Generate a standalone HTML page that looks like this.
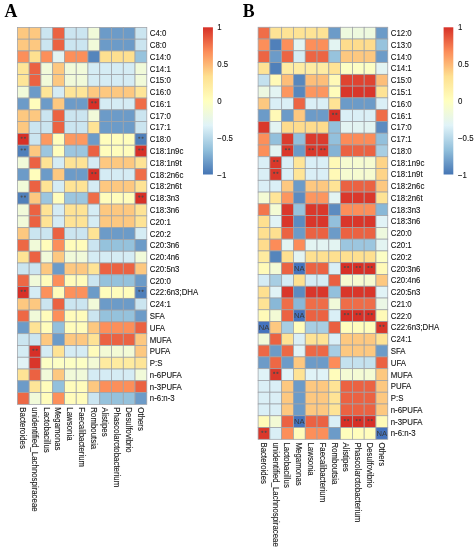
<!DOCTYPE html><html><head><meta charset="utf-8"><style>html,body{margin:0;padding:0;background:#fff;}body{width:476px;height:550px;overflow:hidden;}svg{display:block;}text{font-family:"Liberation Sans",sans-serif;}.lab{fill:#111;stroke:#111;stroke-width:0.1px;}svg{will-change:transform;}</style></head><body>
<svg width="476" height="550" viewBox="0 0 476 550">
<defs><linearGradient id="cb" x1="0" y1="1" x2="0" y2="0">
<stop offset="0.0000" stop-color="#4575B4"/>
<stop offset="0.1667" stop-color="#91BFDB"/>
<stop offset="0.3333" stop-color="#E0F3F8"/>
<stop offset="0.5000" stop-color="#FFFFBF"/>
<stop offset="0.6667" stop-color="#FEE090"/>
<stop offset="0.8333" stop-color="#FC8D59"/>
<stop offset="1.0000" stop-color="#D73027"/>
</linearGradient></defs>
<rect x="17.40" y="27.40" width="11.76" height="11.78" fill="#FDC880" stroke="#9ea2a8" stroke-width="0.75"/>
<rect x="29.16" y="27.40" width="11.76" height="11.78" fill="#FDC880" stroke="#9ea2a8" stroke-width="0.75"/>
<rect x="40.93" y="27.40" width="11.76" height="11.78" fill="#CBE5F0" stroke="#9ea2a8" stroke-width="0.75"/>
<rect x="52.69" y="27.40" width="11.76" height="11.78" fill="#EB6242" stroke="#9ea2a8" stroke-width="0.75"/>
<rect x="64.46" y="27.40" width="11.76" height="11.78" fill="#CBE5F0" stroke="#9ea2a8" stroke-width="0.75"/>
<rect x="76.22" y="27.40" width="11.76" height="11.78" fill="#CBE5F0" stroke="#9ea2a8" stroke-width="0.75"/>
<rect x="87.98" y="27.40" width="11.76" height="11.78" fill="#F1FAD9" stroke="#9ea2a8" stroke-width="0.75"/>
<rect x="99.75" y="27.40" width="11.76" height="11.78" fill="#6C9BC8" stroke="#9ea2a8" stroke-width="0.75"/>
<rect x="111.51" y="27.40" width="11.76" height="11.78" fill="#6C9BC8" stroke="#9ea2a8" stroke-width="0.75"/>
<rect x="123.28" y="27.40" width="11.76" height="11.78" fill="#6C9BC8" stroke="#9ea2a8" stroke-width="0.75"/>
<rect x="135.04" y="27.40" width="11.76" height="11.78" fill="#CBE5F0" stroke="#9ea2a8" stroke-width="0.75"/>
<rect x="17.40" y="39.18" width="11.76" height="11.78" fill="#FDC880" stroke="#9ea2a8" stroke-width="0.75"/>
<rect x="29.16" y="39.18" width="11.76" height="11.78" fill="#FDC880" stroke="#9ea2a8" stroke-width="0.75"/>
<rect x="40.93" y="39.18" width="11.76" height="11.78" fill="#CBE5F0" stroke="#9ea2a8" stroke-width="0.75"/>
<rect x="52.69" y="39.18" width="11.76" height="11.78" fill="#EB6242" stroke="#9ea2a8" stroke-width="0.75"/>
<rect x="64.46" y="39.18" width="11.76" height="11.78" fill="#CBE5F0" stroke="#9ea2a8" stroke-width="0.75"/>
<rect x="76.22" y="39.18" width="11.76" height="11.78" fill="#CBE5F0" stroke="#9ea2a8" stroke-width="0.75"/>
<rect x="87.98" y="39.18" width="11.76" height="11.78" fill="#F1FAD9" stroke="#9ea2a8" stroke-width="0.75"/>
<rect x="99.75" y="39.18" width="11.76" height="11.78" fill="#6C9BC8" stroke="#9ea2a8" stroke-width="0.75"/>
<rect x="111.51" y="39.18" width="11.76" height="11.78" fill="#6C9BC8" stroke="#9ea2a8" stroke-width="0.75"/>
<rect x="123.28" y="39.18" width="11.76" height="11.78" fill="#6C9BC8" stroke="#9ea2a8" stroke-width="0.75"/>
<rect x="135.04" y="39.18" width="11.76" height="11.78" fill="#CBE5F0" stroke="#9ea2a8" stroke-width="0.75"/>
<rect x="17.40" y="50.96" width="11.76" height="11.78" fill="#FC8F5A" stroke="#9ea2a8" stroke-width="0.75"/>
<rect x="29.16" y="50.96" width="11.76" height="11.78" fill="#FEE090" stroke="#9ea2a8" stroke-width="0.75"/>
<rect x="40.93" y="50.96" width="11.76" height="11.78" fill="#FC8F5A" stroke="#9ea2a8" stroke-width="0.75"/>
<rect x="52.69" y="50.96" width="11.76" height="11.78" fill="#E3F4F2" stroke="#9ea2a8" stroke-width="0.75"/>
<rect x="64.46" y="50.96" width="11.76" height="11.78" fill="#FC8F5A" stroke="#9ea2a8" stroke-width="0.75"/>
<rect x="76.22" y="50.96" width="11.76" height="11.78" fill="#FC8F5A" stroke="#9ea2a8" stroke-width="0.75"/>
<rect x="87.98" y="50.96" width="11.76" height="11.78" fill="#5585BC" stroke="#9ea2a8" stroke-width="0.75"/>
<rect x="99.75" y="50.96" width="11.76" height="11.78" fill="#FEE090" stroke="#9ea2a8" stroke-width="0.75"/>
<rect x="111.51" y="50.96" width="11.76" height="11.78" fill="#FEE090" stroke="#9ea2a8" stroke-width="0.75"/>
<rect x="123.28" y="50.96" width="11.76" height="11.78" fill="#FEE090" stroke="#9ea2a8" stroke-width="0.75"/>
<rect x="135.04" y="50.96" width="11.76" height="11.78" fill="#97C3DD" stroke="#9ea2a8" stroke-width="0.75"/>
<rect x="17.40" y="62.74" width="11.76" height="11.78" fill="#FEE598" stroke="#9ea2a8" stroke-width="0.75"/>
<rect x="29.16" y="62.74" width="11.76" height="11.78" fill="#EB6242" stroke="#9ea2a8" stroke-width="0.75"/>
<rect x="40.93" y="62.74" width="11.76" height="11.78" fill="#F1FAD9" stroke="#9ea2a8" stroke-width="0.75"/>
<rect x="52.69" y="62.74" width="11.76" height="11.78" fill="#FDC880" stroke="#9ea2a8" stroke-width="0.75"/>
<rect x="64.46" y="62.74" width="11.76" height="11.78" fill="#F1FAD9" stroke="#9ea2a8" stroke-width="0.75"/>
<rect x="76.22" y="62.74" width="11.76" height="11.78" fill="#F1FAD9" stroke="#9ea2a8" stroke-width="0.75"/>
<rect x="87.98" y="62.74" width="11.76" height="11.78" fill="#D5ECF4" stroke="#9ea2a8" stroke-width="0.75"/>
<rect x="99.75" y="62.74" width="11.76" height="11.78" fill="#D5ECF4" stroke="#9ea2a8" stroke-width="0.75"/>
<rect x="111.51" y="62.74" width="11.76" height="11.78" fill="#D5ECF4" stroke="#9ea2a8" stroke-width="0.75"/>
<rect x="123.28" y="62.74" width="11.76" height="11.78" fill="#D5ECF4" stroke="#9ea2a8" stroke-width="0.75"/>
<rect x="135.04" y="62.74" width="11.76" height="11.78" fill="#F1FAD9" stroke="#9ea2a8" stroke-width="0.75"/>
<rect x="17.40" y="74.52" width="11.76" height="11.78" fill="#FEE598" stroke="#9ea2a8" stroke-width="0.75"/>
<rect x="29.16" y="74.52" width="11.76" height="11.78" fill="#EB6242" stroke="#9ea2a8" stroke-width="0.75"/>
<rect x="40.93" y="74.52" width="11.76" height="11.78" fill="#F1FAD9" stroke="#9ea2a8" stroke-width="0.75"/>
<rect x="52.69" y="74.52" width="11.76" height="11.78" fill="#FDC880" stroke="#9ea2a8" stroke-width="0.75"/>
<rect x="64.46" y="74.52" width="11.76" height="11.78" fill="#F1FAD9" stroke="#9ea2a8" stroke-width="0.75"/>
<rect x="76.22" y="74.52" width="11.76" height="11.78" fill="#F1FAD9" stroke="#9ea2a8" stroke-width="0.75"/>
<rect x="87.98" y="74.52" width="11.76" height="11.78" fill="#D5ECF4" stroke="#9ea2a8" stroke-width="0.75"/>
<rect x="99.75" y="74.52" width="11.76" height="11.78" fill="#D5ECF4" stroke="#9ea2a8" stroke-width="0.75"/>
<rect x="111.51" y="74.52" width="11.76" height="11.78" fill="#D5ECF4" stroke="#9ea2a8" stroke-width="0.75"/>
<rect x="123.28" y="74.52" width="11.76" height="11.78" fill="#D5ECF4" stroke="#9ea2a8" stroke-width="0.75"/>
<rect x="135.04" y="74.52" width="11.76" height="11.78" fill="#F1FAD9" stroke="#9ea2a8" stroke-width="0.75"/>
<rect x="17.40" y="86.30" width="11.76" height="11.78" fill="#F1FAD9" stroke="#9ea2a8" stroke-width="0.75"/>
<rect x="29.16" y="86.30" width="11.76" height="11.78" fill="#6C9BC8" stroke="#9ea2a8" stroke-width="0.75"/>
<rect x="40.93" y="86.30" width="11.76" height="11.78" fill="#FEE598" stroke="#9ea2a8" stroke-width="0.75"/>
<rect x="52.69" y="86.30" width="11.76" height="11.78" fill="#D5ECF4" stroke="#9ea2a8" stroke-width="0.75"/>
<rect x="64.46" y="86.30" width="11.76" height="11.78" fill="#FEE598" stroke="#9ea2a8" stroke-width="0.75"/>
<rect x="76.22" y="86.30" width="11.76" height="11.78" fill="#FEE598" stroke="#9ea2a8" stroke-width="0.75"/>
<rect x="87.98" y="86.30" width="11.76" height="11.78" fill="#FDC880" stroke="#9ea2a8" stroke-width="0.75"/>
<rect x="99.75" y="86.30" width="11.76" height="11.78" fill="#FDC880" stroke="#9ea2a8" stroke-width="0.75"/>
<rect x="111.51" y="86.30" width="11.76" height="11.78" fill="#FDC880" stroke="#9ea2a8" stroke-width="0.75"/>
<rect x="123.28" y="86.30" width="11.76" height="11.78" fill="#FDC880" stroke="#9ea2a8" stroke-width="0.75"/>
<rect x="135.04" y="86.30" width="11.76" height="11.78" fill="#FEE598" stroke="#9ea2a8" stroke-width="0.75"/>
<rect x="17.40" y="98.08" width="11.76" height="11.78" fill="#6C9BC8" stroke="#9ea2a8" stroke-width="0.75"/>
<rect x="29.16" y="98.08" width="11.76" height="11.78" fill="#FFFDBC" stroke="#9ea2a8" stroke-width="0.75"/>
<rect x="40.93" y="98.08" width="11.76" height="11.78" fill="#6C9BC8" stroke="#9ea2a8" stroke-width="0.75"/>
<rect x="52.69" y="98.08" width="11.76" height="11.78" fill="#FDC880" stroke="#9ea2a8" stroke-width="0.75"/>
<rect x="64.46" y="98.08" width="11.76" height="11.78" fill="#6C9BC8" stroke="#9ea2a8" stroke-width="0.75"/>
<rect x="76.22" y="98.08" width="11.76" height="11.78" fill="#6C9BC8" stroke="#9ea2a8" stroke-width="0.75"/>
<rect x="87.98" y="98.08" width="11.76" height="11.78" fill="#D73027" stroke="#9ea2a8" stroke-width="0.75"/>
<rect x="99.75" y="98.08" width="11.76" height="11.78" fill="#D5ECF4" stroke="#9ea2a8" stroke-width="0.75"/>
<rect x="111.51" y="98.08" width="11.76" height="11.78" fill="#D5ECF4" stroke="#9ea2a8" stroke-width="0.75"/>
<rect x="123.28" y="98.08" width="11.76" height="11.78" fill="#D5ECF4" stroke="#9ea2a8" stroke-width="0.75"/>
<rect x="135.04" y="98.08" width="11.76" height="11.78" fill="#EF6D48" stroke="#9ea2a8" stroke-width="0.75"/>
<rect x="17.40" y="109.86" width="11.76" height="11.78" fill="#FDC880" stroke="#9ea2a8" stroke-width="0.75"/>
<rect x="29.16" y="109.86" width="11.76" height="11.78" fill="#FDC880" stroke="#9ea2a8" stroke-width="0.75"/>
<rect x="40.93" y="109.86" width="11.76" height="11.78" fill="#CBE5F0" stroke="#9ea2a8" stroke-width="0.75"/>
<rect x="52.69" y="109.86" width="11.76" height="11.78" fill="#EB6242" stroke="#9ea2a8" stroke-width="0.75"/>
<rect x="64.46" y="109.86" width="11.76" height="11.78" fill="#CBE5F0" stroke="#9ea2a8" stroke-width="0.75"/>
<rect x="76.22" y="109.86" width="11.76" height="11.78" fill="#CBE5F0" stroke="#9ea2a8" stroke-width="0.75"/>
<rect x="87.98" y="109.86" width="11.76" height="11.78" fill="#F1FAD9" stroke="#9ea2a8" stroke-width="0.75"/>
<rect x="99.75" y="109.86" width="11.76" height="11.78" fill="#6C9BC8" stroke="#9ea2a8" stroke-width="0.75"/>
<rect x="111.51" y="109.86" width="11.76" height="11.78" fill="#6C9BC8" stroke="#9ea2a8" stroke-width="0.75"/>
<rect x="123.28" y="109.86" width="11.76" height="11.78" fill="#6C9BC8" stroke="#9ea2a8" stroke-width="0.75"/>
<rect x="135.04" y="109.86" width="11.76" height="11.78" fill="#CBE5F0" stroke="#9ea2a8" stroke-width="0.75"/>
<rect x="17.40" y="121.64" width="11.76" height="11.78" fill="#FDC880" stroke="#9ea2a8" stroke-width="0.75"/>
<rect x="29.16" y="121.64" width="11.76" height="11.78" fill="#CBE5F0" stroke="#9ea2a8" stroke-width="0.75"/>
<rect x="40.93" y="121.64" width="11.76" height="11.78" fill="#CBE5F0" stroke="#9ea2a8" stroke-width="0.75"/>
<rect x="52.69" y="121.64" width="11.76" height="11.78" fill="#EB6242" stroke="#9ea2a8" stroke-width="0.75"/>
<rect x="64.46" y="121.64" width="11.76" height="11.78" fill="#CBE5F0" stroke="#9ea2a8" stroke-width="0.75"/>
<rect x="76.22" y="121.64" width="11.76" height="11.78" fill="#CBE5F0" stroke="#9ea2a8" stroke-width="0.75"/>
<rect x="87.98" y="121.64" width="11.76" height="11.78" fill="#FEE395" stroke="#9ea2a8" stroke-width="0.75"/>
<rect x="99.75" y="121.64" width="11.76" height="11.78" fill="#6C9BC8" stroke="#9ea2a8" stroke-width="0.75"/>
<rect x="111.51" y="121.64" width="11.76" height="11.78" fill="#6C9BC8" stroke="#9ea2a8" stroke-width="0.75"/>
<rect x="123.28" y="121.64" width="11.76" height="11.78" fill="#6C9BC8" stroke="#9ea2a8" stroke-width="0.75"/>
<rect x="135.04" y="121.64" width="11.76" height="11.78" fill="#CBE5F0" stroke="#9ea2a8" stroke-width="0.75"/>
<rect x="17.40" y="133.42" width="11.76" height="11.78" fill="#D73027" stroke="#9ea2a8" stroke-width="0.75"/>
<rect x="29.16" y="133.42" width="11.76" height="11.78" fill="#CBE5F0" stroke="#9ea2a8" stroke-width="0.75"/>
<rect x="40.93" y="133.42" width="11.76" height="11.78" fill="#FC9961" stroke="#9ea2a8" stroke-width="0.75"/>
<rect x="52.69" y="133.42" width="11.76" height="11.78" fill="#FFFDBC" stroke="#9ea2a8" stroke-width="0.75"/>
<rect x="64.46" y="133.42" width="11.76" height="11.78" fill="#FC9961" stroke="#9ea2a8" stroke-width="0.75"/>
<rect x="76.22" y="133.42" width="11.76" height="11.78" fill="#FC9961" stroke="#9ea2a8" stroke-width="0.75"/>
<rect x="87.98" y="133.42" width="11.76" height="11.78" fill="#6C9BC8" stroke="#9ea2a8" stroke-width="0.75"/>
<rect x="99.75" y="133.42" width="11.76" height="11.78" fill="#FFFDBC" stroke="#9ea2a8" stroke-width="0.75"/>
<rect x="111.51" y="133.42" width="11.76" height="11.78" fill="#FFFDBC" stroke="#9ea2a8" stroke-width="0.75"/>
<rect x="123.28" y="133.42" width="11.76" height="11.78" fill="#FFFDBC" stroke="#9ea2a8" stroke-width="0.75"/>
<rect x="135.04" y="133.42" width="11.76" height="11.78" fill="#5080BA" stroke="#9ea2a8" stroke-width="0.75"/>
<rect x="17.40" y="145.20" width="11.76" height="11.78" fill="#5080BA" stroke="#9ea2a8" stroke-width="0.75"/>
<rect x="29.16" y="145.20" width="11.76" height="11.78" fill="#FDC880" stroke="#9ea2a8" stroke-width="0.75"/>
<rect x="40.93" y="145.20" width="11.76" height="11.78" fill="#9CC6DF" stroke="#9ea2a8" stroke-width="0.75"/>
<rect x="52.69" y="145.20" width="11.76" height="11.78" fill="#FFFDBC" stroke="#9ea2a8" stroke-width="0.75"/>
<rect x="64.46" y="145.20" width="11.76" height="11.78" fill="#9CC6DF" stroke="#9ea2a8" stroke-width="0.75"/>
<rect x="76.22" y="145.20" width="11.76" height="11.78" fill="#9CC6DF" stroke="#9ea2a8" stroke-width="0.75"/>
<rect x="87.98" y="145.20" width="11.76" height="11.78" fill="#EB6242" stroke="#9ea2a8" stroke-width="0.75"/>
<rect x="99.75" y="145.20" width="11.76" height="11.78" fill="#FFFDBC" stroke="#9ea2a8" stroke-width="0.75"/>
<rect x="111.51" y="145.20" width="11.76" height="11.78" fill="#FFFDBC" stroke="#9ea2a8" stroke-width="0.75"/>
<rect x="123.28" y="145.20" width="11.76" height="11.78" fill="#FFFDBC" stroke="#9ea2a8" stroke-width="0.75"/>
<rect x="135.04" y="145.20" width="11.76" height="11.78" fill="#D73027" stroke="#9ea2a8" stroke-width="0.75"/>
<rect x="17.40" y="156.98" width="11.76" height="11.78" fill="#F1FAD9" stroke="#9ea2a8" stroke-width="0.75"/>
<rect x="29.16" y="156.98" width="11.76" height="11.78" fill="#EB6242" stroke="#9ea2a8" stroke-width="0.75"/>
<rect x="40.93" y="156.98" width="11.76" height="11.78" fill="#FEE395" stroke="#9ea2a8" stroke-width="0.75"/>
<rect x="52.69" y="156.98" width="11.76" height="11.78" fill="#D5ECF4" stroke="#9ea2a8" stroke-width="0.75"/>
<rect x="64.46" y="156.98" width="11.76" height="11.78" fill="#FEE395" stroke="#9ea2a8" stroke-width="0.75"/>
<rect x="76.22" y="156.98" width="11.76" height="11.78" fill="#FEE395" stroke="#9ea2a8" stroke-width="0.75"/>
<rect x="87.98" y="156.98" width="11.76" height="11.78" fill="#D5ECF4" stroke="#9ea2a8" stroke-width="0.75"/>
<rect x="99.75" y="156.98" width="11.76" height="11.78" fill="#FDC880" stroke="#9ea2a8" stroke-width="0.75"/>
<rect x="111.51" y="156.98" width="11.76" height="11.78" fill="#FDC880" stroke="#9ea2a8" stroke-width="0.75"/>
<rect x="123.28" y="156.98" width="11.76" height="11.78" fill="#FDC880" stroke="#9ea2a8" stroke-width="0.75"/>
<rect x="135.04" y="156.98" width="11.76" height="11.78" fill="#FEE395" stroke="#9ea2a8" stroke-width="0.75"/>
<rect x="17.40" y="168.76" width="11.76" height="11.78" fill="#6C9BC8" stroke="#9ea2a8" stroke-width="0.75"/>
<rect x="29.16" y="168.76" width="11.76" height="11.78" fill="#FFFDBC" stroke="#9ea2a8" stroke-width="0.75"/>
<rect x="40.93" y="168.76" width="11.76" height="11.78" fill="#6C9BC8" stroke="#9ea2a8" stroke-width="0.75"/>
<rect x="52.69" y="168.76" width="11.76" height="11.78" fill="#FDC880" stroke="#9ea2a8" stroke-width="0.75"/>
<rect x="64.46" y="168.76" width="11.76" height="11.78" fill="#6C9BC8" stroke="#9ea2a8" stroke-width="0.75"/>
<rect x="76.22" y="168.76" width="11.76" height="11.78" fill="#6C9BC8" stroke="#9ea2a8" stroke-width="0.75"/>
<rect x="87.98" y="168.76" width="11.76" height="11.78" fill="#D73027" stroke="#9ea2a8" stroke-width="0.75"/>
<rect x="99.75" y="168.76" width="11.76" height="11.78" fill="#D5ECF4" stroke="#9ea2a8" stroke-width="0.75"/>
<rect x="111.51" y="168.76" width="11.76" height="11.78" fill="#D5ECF4" stroke="#9ea2a8" stroke-width="0.75"/>
<rect x="123.28" y="168.76" width="11.76" height="11.78" fill="#D5ECF4" stroke="#9ea2a8" stroke-width="0.75"/>
<rect x="135.04" y="168.76" width="11.76" height="11.78" fill="#EF6D48" stroke="#9ea2a8" stroke-width="0.75"/>
<rect x="17.40" y="180.54" width="11.76" height="11.78" fill="#F1FAD9" stroke="#9ea2a8" stroke-width="0.75"/>
<rect x="29.16" y="180.54" width="11.76" height="11.78" fill="#EB6242" stroke="#9ea2a8" stroke-width="0.75"/>
<rect x="40.93" y="180.54" width="11.76" height="11.78" fill="#FEE395" stroke="#9ea2a8" stroke-width="0.75"/>
<rect x="52.69" y="180.54" width="11.76" height="11.78" fill="#D5ECF4" stroke="#9ea2a8" stroke-width="0.75"/>
<rect x="64.46" y="180.54" width="11.76" height="11.78" fill="#FEE395" stroke="#9ea2a8" stroke-width="0.75"/>
<rect x="76.22" y="180.54" width="11.76" height="11.78" fill="#FEE395" stroke="#9ea2a8" stroke-width="0.75"/>
<rect x="87.98" y="180.54" width="11.76" height="11.78" fill="#D5ECF4" stroke="#9ea2a8" stroke-width="0.75"/>
<rect x="99.75" y="180.54" width="11.76" height="11.78" fill="#FDC880" stroke="#9ea2a8" stroke-width="0.75"/>
<rect x="111.51" y="180.54" width="11.76" height="11.78" fill="#FDC880" stroke="#9ea2a8" stroke-width="0.75"/>
<rect x="123.28" y="180.54" width="11.76" height="11.78" fill="#FDC880" stroke="#9ea2a8" stroke-width="0.75"/>
<rect x="135.04" y="180.54" width="11.76" height="11.78" fill="#FEE395" stroke="#9ea2a8" stroke-width="0.75"/>
<rect x="17.40" y="192.32" width="11.76" height="11.78" fill="#5080BA" stroke="#9ea2a8" stroke-width="0.75"/>
<rect x="29.16" y="192.32" width="11.76" height="11.78" fill="#FDC880" stroke="#9ea2a8" stroke-width="0.75"/>
<rect x="40.93" y="192.32" width="11.76" height="11.78" fill="#9CC6DF" stroke="#9ea2a8" stroke-width="0.75"/>
<rect x="52.69" y="192.32" width="11.76" height="11.78" fill="#FFFDBC" stroke="#9ea2a8" stroke-width="0.75"/>
<rect x="64.46" y="192.32" width="11.76" height="11.78" fill="#9CC6DF" stroke="#9ea2a8" stroke-width="0.75"/>
<rect x="76.22" y="192.32" width="11.76" height="11.78" fill="#9CC6DF" stroke="#9ea2a8" stroke-width="0.75"/>
<rect x="87.98" y="192.32" width="11.76" height="11.78" fill="#EF6D48" stroke="#9ea2a8" stroke-width="0.75"/>
<rect x="99.75" y="192.32" width="11.76" height="11.78" fill="#FFFDBC" stroke="#9ea2a8" stroke-width="0.75"/>
<rect x="111.51" y="192.32" width="11.76" height="11.78" fill="#FFFDBC" stroke="#9ea2a8" stroke-width="0.75"/>
<rect x="123.28" y="192.32" width="11.76" height="11.78" fill="#FFFDBC" stroke="#9ea2a8" stroke-width="0.75"/>
<rect x="135.04" y="192.32" width="11.76" height="11.78" fill="#D73027" stroke="#9ea2a8" stroke-width="0.75"/>
<rect x="17.40" y="204.10" width="11.76" height="11.78" fill="#F1FAD9" stroke="#9ea2a8" stroke-width="0.75"/>
<rect x="29.16" y="204.10" width="11.76" height="11.78" fill="#EB6242" stroke="#9ea2a8" stroke-width="0.75"/>
<rect x="40.93" y="204.10" width="11.76" height="11.78" fill="#FEE395" stroke="#9ea2a8" stroke-width="0.75"/>
<rect x="52.69" y="204.10" width="11.76" height="11.78" fill="#D5ECF4" stroke="#9ea2a8" stroke-width="0.75"/>
<rect x="64.46" y="204.10" width="11.76" height="11.78" fill="#FEE395" stroke="#9ea2a8" stroke-width="0.75"/>
<rect x="76.22" y="204.10" width="11.76" height="11.78" fill="#FEE395" stroke="#9ea2a8" stroke-width="0.75"/>
<rect x="87.98" y="204.10" width="11.76" height="11.78" fill="#D5ECF4" stroke="#9ea2a8" stroke-width="0.75"/>
<rect x="99.75" y="204.10" width="11.76" height="11.78" fill="#FDC880" stroke="#9ea2a8" stroke-width="0.75"/>
<rect x="111.51" y="204.10" width="11.76" height="11.78" fill="#FDC880" stroke="#9ea2a8" stroke-width="0.75"/>
<rect x="123.28" y="204.10" width="11.76" height="11.78" fill="#FDC880" stroke="#9ea2a8" stroke-width="0.75"/>
<rect x="135.04" y="204.10" width="11.76" height="11.78" fill="#FEE395" stroke="#9ea2a8" stroke-width="0.75"/>
<rect x="17.40" y="215.88" width="11.76" height="11.78" fill="#F1FAD9" stroke="#9ea2a8" stroke-width="0.75"/>
<rect x="29.16" y="215.88" width="11.76" height="11.78" fill="#EB6242" stroke="#9ea2a8" stroke-width="0.75"/>
<rect x="40.93" y="215.88" width="11.76" height="11.78" fill="#FEE395" stroke="#9ea2a8" stroke-width="0.75"/>
<rect x="52.69" y="215.88" width="11.76" height="11.78" fill="#D5ECF4" stroke="#9ea2a8" stroke-width="0.75"/>
<rect x="64.46" y="215.88" width="11.76" height="11.78" fill="#FEE395" stroke="#9ea2a8" stroke-width="0.75"/>
<rect x="76.22" y="215.88" width="11.76" height="11.78" fill="#FEE395" stroke="#9ea2a8" stroke-width="0.75"/>
<rect x="87.98" y="215.88" width="11.76" height="11.78" fill="#D5ECF4" stroke="#9ea2a8" stroke-width="0.75"/>
<rect x="99.75" y="215.88" width="11.76" height="11.78" fill="#FDC880" stroke="#9ea2a8" stroke-width="0.75"/>
<rect x="111.51" y="215.88" width="11.76" height="11.78" fill="#FDC880" stroke="#9ea2a8" stroke-width="0.75"/>
<rect x="123.28" y="215.88" width="11.76" height="11.78" fill="#FDC880" stroke="#9ea2a8" stroke-width="0.75"/>
<rect x="135.04" y="215.88" width="11.76" height="11.78" fill="#FEE395" stroke="#9ea2a8" stroke-width="0.75"/>
<rect x="17.40" y="227.66" width="11.76" height="11.78" fill="#FDC880" stroke="#9ea2a8" stroke-width="0.75"/>
<rect x="29.16" y="227.66" width="11.76" height="11.78" fill="#CBE5F0" stroke="#9ea2a8" stroke-width="0.75"/>
<rect x="40.93" y="227.66" width="11.76" height="11.78" fill="#CBE5F0" stroke="#9ea2a8" stroke-width="0.75"/>
<rect x="52.69" y="227.66" width="11.76" height="11.78" fill="#EB6242" stroke="#9ea2a8" stroke-width="0.75"/>
<rect x="64.46" y="227.66" width="11.76" height="11.78" fill="#CBE5F0" stroke="#9ea2a8" stroke-width="0.75"/>
<rect x="76.22" y="227.66" width="11.76" height="11.78" fill="#CBE5F0" stroke="#9ea2a8" stroke-width="0.75"/>
<rect x="87.98" y="227.66" width="11.76" height="11.78" fill="#FEE395" stroke="#9ea2a8" stroke-width="0.75"/>
<rect x="99.75" y="227.66" width="11.76" height="11.78" fill="#6C9BC8" stroke="#9ea2a8" stroke-width="0.75"/>
<rect x="111.51" y="227.66" width="11.76" height="11.78" fill="#6C9BC8" stroke="#9ea2a8" stroke-width="0.75"/>
<rect x="123.28" y="227.66" width="11.76" height="11.78" fill="#6C9BC8" stroke="#9ea2a8" stroke-width="0.75"/>
<rect x="135.04" y="227.66" width="11.76" height="11.78" fill="#D5ECF4" stroke="#9ea2a8" stroke-width="0.75"/>
<rect x="17.40" y="239.44" width="11.76" height="11.78" fill="#ED6845" stroke="#9ea2a8" stroke-width="0.75"/>
<rect x="29.16" y="239.44" width="11.76" height="11.78" fill="#F1FAD9" stroke="#9ea2a8" stroke-width="0.75"/>
<rect x="40.93" y="239.44" width="11.76" height="11.78" fill="#FFFCBB" stroke="#9ea2a8" stroke-width="0.75"/>
<rect x="52.69" y="239.44" width="11.76" height="11.78" fill="#FC8F5A" stroke="#9ea2a8" stroke-width="0.75"/>
<rect x="64.46" y="239.44" width="11.76" height="11.78" fill="#FFFCBB" stroke="#9ea2a8" stroke-width="0.75"/>
<rect x="76.22" y="239.44" width="11.76" height="11.78" fill="#FFFCBB" stroke="#9ea2a8" stroke-width="0.75"/>
<rect x="87.98" y="239.44" width="11.76" height="11.78" fill="#CBE5F0" stroke="#9ea2a8" stroke-width="0.75"/>
<rect x="99.75" y="239.44" width="11.76" height="11.78" fill="#95C2DC" stroke="#9ea2a8" stroke-width="0.75"/>
<rect x="111.51" y="239.44" width="11.76" height="11.78" fill="#95C2DC" stroke="#9ea2a8" stroke-width="0.75"/>
<rect x="123.28" y="239.44" width="11.76" height="11.78" fill="#95C2DC" stroke="#9ea2a8" stroke-width="0.75"/>
<rect x="135.04" y="239.44" width="11.76" height="11.78" fill="#6C9BC8" stroke="#9ea2a8" stroke-width="0.75"/>
<rect x="17.40" y="251.22" width="11.76" height="11.78" fill="#FEE395" stroke="#9ea2a8" stroke-width="0.75"/>
<rect x="29.16" y="251.22" width="11.76" height="11.78" fill="#EB6242" stroke="#9ea2a8" stroke-width="0.75"/>
<rect x="40.93" y="251.22" width="11.76" height="11.78" fill="#F1FAD9" stroke="#9ea2a8" stroke-width="0.75"/>
<rect x="52.69" y="251.22" width="11.76" height="11.78" fill="#FDC880" stroke="#9ea2a8" stroke-width="0.75"/>
<rect x="64.46" y="251.22" width="11.76" height="11.78" fill="#F1FAD9" stroke="#9ea2a8" stroke-width="0.75"/>
<rect x="76.22" y="251.22" width="11.76" height="11.78" fill="#F1FAD9" stroke="#9ea2a8" stroke-width="0.75"/>
<rect x="87.98" y="251.22" width="11.76" height="11.78" fill="#D5ECF4" stroke="#9ea2a8" stroke-width="0.75"/>
<rect x="99.75" y="251.22" width="11.76" height="11.78" fill="#D5ECF4" stroke="#9ea2a8" stroke-width="0.75"/>
<rect x="111.51" y="251.22" width="11.76" height="11.78" fill="#D5ECF4" stroke="#9ea2a8" stroke-width="0.75"/>
<rect x="123.28" y="251.22" width="11.76" height="11.78" fill="#D5ECF4" stroke="#9ea2a8" stroke-width="0.75"/>
<rect x="135.04" y="251.22" width="11.76" height="11.78" fill="#F1FAD9" stroke="#9ea2a8" stroke-width="0.75"/>
<rect x="17.40" y="263.00" width="11.76" height="11.78" fill="#CBE5F0" stroke="#9ea2a8" stroke-width="0.75"/>
<rect x="29.16" y="263.00" width="11.76" height="11.78" fill="#CBE5F0" stroke="#9ea2a8" stroke-width="0.75"/>
<rect x="40.93" y="263.00" width="11.76" height="11.78" fill="#FDC880" stroke="#9ea2a8" stroke-width="0.75"/>
<rect x="52.69" y="263.00" width="11.76" height="11.78" fill="#6C9BC8" stroke="#9ea2a8" stroke-width="0.75"/>
<rect x="64.46" y="263.00" width="11.76" height="11.78" fill="#FDC880" stroke="#9ea2a8" stroke-width="0.75"/>
<rect x="76.22" y="263.00" width="11.76" height="11.78" fill="#FDC880" stroke="#9ea2a8" stroke-width="0.75"/>
<rect x="87.98" y="263.00" width="11.76" height="11.78" fill="#FEE395" stroke="#9ea2a8" stroke-width="0.75"/>
<rect x="99.75" y="263.00" width="11.76" height="11.78" fill="#EB6242" stroke="#9ea2a8" stroke-width="0.75"/>
<rect x="111.51" y="263.00" width="11.76" height="11.78" fill="#EB6242" stroke="#9ea2a8" stroke-width="0.75"/>
<rect x="123.28" y="263.00" width="11.76" height="11.78" fill="#EB6242" stroke="#9ea2a8" stroke-width="0.75"/>
<rect x="135.04" y="263.00" width="11.76" height="11.78" fill="#FDC880" stroke="#9ea2a8" stroke-width="0.75"/>
<rect x="17.40" y="274.78" width="11.76" height="11.78" fill="#ED6845" stroke="#9ea2a8" stroke-width="0.75"/>
<rect x="29.16" y="274.78" width="11.76" height="11.78" fill="#F1FAD9" stroke="#9ea2a8" stroke-width="0.75"/>
<rect x="40.93" y="274.78" width="11.76" height="11.78" fill="#FFFCBB" stroke="#9ea2a8" stroke-width="0.75"/>
<rect x="52.69" y="274.78" width="11.76" height="11.78" fill="#FC8F5A" stroke="#9ea2a8" stroke-width="0.75"/>
<rect x="64.46" y="274.78" width="11.76" height="11.78" fill="#FFFCBB" stroke="#9ea2a8" stroke-width="0.75"/>
<rect x="76.22" y="274.78" width="11.76" height="11.78" fill="#FFFCBB" stroke="#9ea2a8" stroke-width="0.75"/>
<rect x="87.98" y="274.78" width="11.76" height="11.78" fill="#CBE5F0" stroke="#9ea2a8" stroke-width="0.75"/>
<rect x="99.75" y="274.78" width="11.76" height="11.78" fill="#95C2DC" stroke="#9ea2a8" stroke-width="0.75"/>
<rect x="111.51" y="274.78" width="11.76" height="11.78" fill="#95C2DC" stroke="#9ea2a8" stroke-width="0.75"/>
<rect x="123.28" y="274.78" width="11.76" height="11.78" fill="#95C2DC" stroke="#9ea2a8" stroke-width="0.75"/>
<rect x="135.04" y="274.78" width="11.76" height="11.78" fill="#6C9BC8" stroke="#9ea2a8" stroke-width="0.75"/>
<rect x="17.40" y="286.56" width="11.76" height="11.78" fill="#D73027" stroke="#9ea2a8" stroke-width="0.75"/>
<rect x="29.16" y="286.56" width="11.76" height="11.78" fill="#D5ECF4" stroke="#9ea2a8" stroke-width="0.75"/>
<rect x="40.93" y="286.56" width="11.76" height="11.78" fill="#FC915C" stroke="#9ea2a8" stroke-width="0.75"/>
<rect x="52.69" y="286.56" width="11.76" height="11.78" fill="#FFFDBC" stroke="#9ea2a8" stroke-width="0.75"/>
<rect x="64.46" y="286.56" width="11.76" height="11.78" fill="#FC915C" stroke="#9ea2a8" stroke-width="0.75"/>
<rect x="76.22" y="286.56" width="11.76" height="11.78" fill="#FC915C" stroke="#9ea2a8" stroke-width="0.75"/>
<rect x="87.98" y="286.56" width="11.76" height="11.78" fill="#6C9BC8" stroke="#9ea2a8" stroke-width="0.75"/>
<rect x="99.75" y="286.56" width="11.76" height="11.78" fill="#FFFDBC" stroke="#9ea2a8" stroke-width="0.75"/>
<rect x="111.51" y="286.56" width="11.76" height="11.78" fill="#FFFDBC" stroke="#9ea2a8" stroke-width="0.75"/>
<rect x="123.28" y="286.56" width="11.76" height="11.78" fill="#FFFDBC" stroke="#9ea2a8" stroke-width="0.75"/>
<rect x="135.04" y="286.56" width="11.76" height="11.78" fill="#5080BA" stroke="#9ea2a8" stroke-width="0.75"/>
<rect x="17.40" y="298.34" width="11.76" height="11.78" fill="#FDC880" stroke="#9ea2a8" stroke-width="0.75"/>
<rect x="29.16" y="298.34" width="11.76" height="11.78" fill="#FDC880" stroke="#9ea2a8" stroke-width="0.75"/>
<rect x="40.93" y="298.34" width="11.76" height="11.78" fill="#CBE5F0" stroke="#9ea2a8" stroke-width="0.75"/>
<rect x="52.69" y="298.34" width="11.76" height="11.78" fill="#EB6242" stroke="#9ea2a8" stroke-width="0.75"/>
<rect x="64.46" y="298.34" width="11.76" height="11.78" fill="#CBE5F0" stroke="#9ea2a8" stroke-width="0.75"/>
<rect x="76.22" y="298.34" width="11.76" height="11.78" fill="#CBE5F0" stroke="#9ea2a8" stroke-width="0.75"/>
<rect x="87.98" y="298.34" width="11.76" height="11.78" fill="#F1FAD9" stroke="#9ea2a8" stroke-width="0.75"/>
<rect x="99.75" y="298.34" width="11.76" height="11.78" fill="#6C9BC8" stroke="#9ea2a8" stroke-width="0.75"/>
<rect x="111.51" y="298.34" width="11.76" height="11.78" fill="#6C9BC8" stroke="#9ea2a8" stroke-width="0.75"/>
<rect x="123.28" y="298.34" width="11.76" height="11.78" fill="#6C9BC8" stroke="#9ea2a8" stroke-width="0.75"/>
<rect x="135.04" y="298.34" width="11.76" height="11.78" fill="#CBE5F0" stroke="#9ea2a8" stroke-width="0.75"/>
<rect x="17.40" y="310.12" width="11.76" height="11.78" fill="#ED6845" stroke="#9ea2a8" stroke-width="0.75"/>
<rect x="29.16" y="310.12" width="11.76" height="11.78" fill="#F1FAD9" stroke="#9ea2a8" stroke-width="0.75"/>
<rect x="40.93" y="310.12" width="11.76" height="11.78" fill="#FFFCBB" stroke="#9ea2a8" stroke-width="0.75"/>
<rect x="52.69" y="310.12" width="11.76" height="11.78" fill="#FC8F5A" stroke="#9ea2a8" stroke-width="0.75"/>
<rect x="64.46" y="310.12" width="11.76" height="11.78" fill="#FFFCBB" stroke="#9ea2a8" stroke-width="0.75"/>
<rect x="76.22" y="310.12" width="11.76" height="11.78" fill="#FFFCBB" stroke="#9ea2a8" stroke-width="0.75"/>
<rect x="87.98" y="310.12" width="11.76" height="11.78" fill="#CBE5F0" stroke="#9ea2a8" stroke-width="0.75"/>
<rect x="99.75" y="310.12" width="11.76" height="11.78" fill="#95C2DC" stroke="#9ea2a8" stroke-width="0.75"/>
<rect x="111.51" y="310.12" width="11.76" height="11.78" fill="#95C2DC" stroke="#9ea2a8" stroke-width="0.75"/>
<rect x="123.28" y="310.12" width="11.76" height="11.78" fill="#95C2DC" stroke="#9ea2a8" stroke-width="0.75"/>
<rect x="135.04" y="310.12" width="11.76" height="11.78" fill="#6C9BC8" stroke="#9ea2a8" stroke-width="0.75"/>
<rect x="17.40" y="321.90" width="11.76" height="11.78" fill="#6C9BC8" stroke="#9ea2a8" stroke-width="0.75"/>
<rect x="29.16" y="321.90" width="11.76" height="11.78" fill="#FEE395" stroke="#9ea2a8" stroke-width="0.75"/>
<rect x="40.93" y="321.90" width="11.76" height="11.78" fill="#FFFCBB" stroke="#9ea2a8" stroke-width="0.75"/>
<rect x="52.69" y="321.90" width="11.76" height="11.78" fill="#93C0DC" stroke="#9ea2a8" stroke-width="0.75"/>
<rect x="64.46" y="321.90" width="11.76" height="11.78" fill="#FFFCBB" stroke="#9ea2a8" stroke-width="0.75"/>
<rect x="76.22" y="321.90" width="11.76" height="11.78" fill="#FFFCBB" stroke="#9ea2a8" stroke-width="0.75"/>
<rect x="87.98" y="321.90" width="11.76" height="11.78" fill="#FDC880" stroke="#9ea2a8" stroke-width="0.75"/>
<rect x="99.75" y="321.90" width="11.76" height="11.78" fill="#FC8F5A" stroke="#9ea2a8" stroke-width="0.75"/>
<rect x="111.51" y="321.90" width="11.76" height="11.78" fill="#FC8F5A" stroke="#9ea2a8" stroke-width="0.75"/>
<rect x="123.28" y="321.90" width="11.76" height="11.78" fill="#FC8F5A" stroke="#9ea2a8" stroke-width="0.75"/>
<rect x="135.04" y="321.90" width="11.76" height="11.78" fill="#EB6242" stroke="#9ea2a8" stroke-width="0.75"/>
<rect x="17.40" y="333.68" width="11.76" height="11.78" fill="#CBE5F0" stroke="#9ea2a8" stroke-width="0.75"/>
<rect x="29.16" y="333.68" width="11.76" height="11.78" fill="#CBE5F0" stroke="#9ea2a8" stroke-width="0.75"/>
<rect x="40.93" y="333.68" width="11.76" height="11.78" fill="#FDC880" stroke="#9ea2a8" stroke-width="0.75"/>
<rect x="52.69" y="333.68" width="11.76" height="11.78" fill="#6C9BC8" stroke="#9ea2a8" stroke-width="0.75"/>
<rect x="64.46" y="333.68" width="11.76" height="11.78" fill="#FDC880" stroke="#9ea2a8" stroke-width="0.75"/>
<rect x="76.22" y="333.68" width="11.76" height="11.78" fill="#FDC880" stroke="#9ea2a8" stroke-width="0.75"/>
<rect x="87.98" y="333.68" width="11.76" height="11.78" fill="#FEE395" stroke="#9ea2a8" stroke-width="0.75"/>
<rect x="99.75" y="333.68" width="11.76" height="11.78" fill="#EB6242" stroke="#9ea2a8" stroke-width="0.75"/>
<rect x="111.51" y="333.68" width="11.76" height="11.78" fill="#EB6242" stroke="#9ea2a8" stroke-width="0.75"/>
<rect x="123.28" y="333.68" width="11.76" height="11.78" fill="#EB6242" stroke="#9ea2a8" stroke-width="0.75"/>
<rect x="135.04" y="333.68" width="11.76" height="11.78" fill="#FDC880" stroke="#9ea2a8" stroke-width="0.75"/>
<rect x="17.40" y="345.46" width="11.76" height="11.78" fill="#D5ECF4" stroke="#9ea2a8" stroke-width="0.75"/>
<rect x="29.16" y="345.46" width="11.76" height="11.78" fill="#D73027" stroke="#9ea2a8" stroke-width="0.75"/>
<rect x="40.93" y="345.46" width="11.76" height="11.78" fill="#D5ECF4" stroke="#9ea2a8" stroke-width="0.75"/>
<rect x="52.69" y="345.46" width="11.76" height="11.78" fill="#FEE395" stroke="#9ea2a8" stroke-width="0.75"/>
<rect x="64.46" y="345.46" width="11.76" height="11.78" fill="#D5ECF4" stroke="#9ea2a8" stroke-width="0.75"/>
<rect x="76.22" y="345.46" width="11.76" height="11.78" fill="#D5ECF4" stroke="#9ea2a8" stroke-width="0.75"/>
<rect x="87.98" y="345.46" width="11.76" height="11.78" fill="#FFFCBB" stroke="#9ea2a8" stroke-width="0.75"/>
<rect x="99.75" y="345.46" width="11.76" height="11.78" fill="#F3FAD5" stroke="#9ea2a8" stroke-width="0.75"/>
<rect x="111.51" y="345.46" width="11.76" height="11.78" fill="#F3FAD5" stroke="#9ea2a8" stroke-width="0.75"/>
<rect x="123.28" y="345.46" width="11.76" height="11.78" fill="#F3FAD5" stroke="#9ea2a8" stroke-width="0.75"/>
<rect x="135.04" y="345.46" width="11.76" height="11.78" fill="#FDC880" stroke="#9ea2a8" stroke-width="0.75"/>
<rect x="17.40" y="357.24" width="11.76" height="11.78" fill="#E1F3F6" stroke="#9ea2a8" stroke-width="0.75"/>
<rect x="29.16" y="357.24" width="11.76" height="11.78" fill="#D9362A" stroke="#9ea2a8" stroke-width="0.75"/>
<rect x="40.93" y="357.24" width="11.76" height="11.78" fill="#FCFEC4" stroke="#9ea2a8" stroke-width="0.75"/>
<rect x="52.69" y="357.24" width="11.76" height="11.78" fill="#FCFEC4" stroke="#9ea2a8" stroke-width="0.75"/>
<rect x="64.46" y="357.24" width="11.76" height="11.78" fill="#FCFEC4" stroke="#9ea2a8" stroke-width="0.75"/>
<rect x="76.22" y="357.24" width="11.76" height="11.78" fill="#FCFEC4" stroke="#9ea2a8" stroke-width="0.75"/>
<rect x="87.98" y="357.24" width="11.76" height="11.78" fill="#F3FAD5" stroke="#9ea2a8" stroke-width="0.75"/>
<rect x="99.75" y="357.24" width="11.76" height="11.78" fill="#FEEBA0" stroke="#9ea2a8" stroke-width="0.75"/>
<rect x="111.51" y="357.24" width="11.76" height="11.78" fill="#FEEBA0" stroke="#9ea2a8" stroke-width="0.75"/>
<rect x="123.28" y="357.24" width="11.76" height="11.78" fill="#FEEBA0" stroke="#9ea2a8" stroke-width="0.75"/>
<rect x="135.04" y="357.24" width="11.76" height="11.78" fill="#FEE598" stroke="#9ea2a8" stroke-width="0.75"/>
<rect x="17.40" y="369.02" width="11.76" height="11.78" fill="#FEE395" stroke="#9ea2a8" stroke-width="0.75"/>
<rect x="29.16" y="369.02" width="11.76" height="11.78" fill="#EB6242" stroke="#9ea2a8" stroke-width="0.75"/>
<rect x="40.93" y="369.02" width="11.76" height="11.78" fill="#F1FAD9" stroke="#9ea2a8" stroke-width="0.75"/>
<rect x="52.69" y="369.02" width="11.76" height="11.78" fill="#FDC880" stroke="#9ea2a8" stroke-width="0.75"/>
<rect x="64.46" y="369.02" width="11.76" height="11.78" fill="#F1FAD9" stroke="#9ea2a8" stroke-width="0.75"/>
<rect x="76.22" y="369.02" width="11.76" height="11.78" fill="#F1FAD9" stroke="#9ea2a8" stroke-width="0.75"/>
<rect x="87.98" y="369.02" width="11.76" height="11.78" fill="#D5ECF4" stroke="#9ea2a8" stroke-width="0.75"/>
<rect x="99.75" y="369.02" width="11.76" height="11.78" fill="#D5ECF4" stroke="#9ea2a8" stroke-width="0.75"/>
<rect x="111.51" y="369.02" width="11.76" height="11.78" fill="#D5ECF4" stroke="#9ea2a8" stroke-width="0.75"/>
<rect x="123.28" y="369.02" width="11.76" height="11.78" fill="#D5ECF4" stroke="#9ea2a8" stroke-width="0.75"/>
<rect x="135.04" y="369.02" width="11.76" height="11.78" fill="#F1FAD9" stroke="#9ea2a8" stroke-width="0.75"/>
<rect x="17.40" y="380.80" width="11.76" height="11.78" fill="#6C9BC8" stroke="#9ea2a8" stroke-width="0.75"/>
<rect x="29.16" y="380.80" width="11.76" height="11.78" fill="#FEE598" stroke="#9ea2a8" stroke-width="0.75"/>
<rect x="40.93" y="380.80" width="11.76" height="11.78" fill="#FFFCBB" stroke="#9ea2a8" stroke-width="0.75"/>
<rect x="52.69" y="380.80" width="11.76" height="11.78" fill="#93C0DC" stroke="#9ea2a8" stroke-width="0.75"/>
<rect x="64.46" y="380.80" width="11.76" height="11.78" fill="#FFFCBB" stroke="#9ea2a8" stroke-width="0.75"/>
<rect x="76.22" y="380.80" width="11.76" height="11.78" fill="#FFFCBB" stroke="#9ea2a8" stroke-width="0.75"/>
<rect x="87.98" y="380.80" width="11.76" height="11.78" fill="#FDC880" stroke="#9ea2a8" stroke-width="0.75"/>
<rect x="99.75" y="380.80" width="11.76" height="11.78" fill="#FC8F5A" stroke="#9ea2a8" stroke-width="0.75"/>
<rect x="111.51" y="380.80" width="11.76" height="11.78" fill="#FC8F5A" stroke="#9ea2a8" stroke-width="0.75"/>
<rect x="123.28" y="380.80" width="11.76" height="11.78" fill="#FC8F5A" stroke="#9ea2a8" stroke-width="0.75"/>
<rect x="135.04" y="380.80" width="11.76" height="11.78" fill="#EB6242" stroke="#9ea2a8" stroke-width="0.75"/>
<rect x="17.40" y="392.58" width="11.76" height="11.78" fill="#ED6845" stroke="#9ea2a8" stroke-width="0.75"/>
<rect x="29.16" y="392.58" width="11.76" height="11.78" fill="#F1FAD9" stroke="#9ea2a8" stroke-width="0.75"/>
<rect x="40.93" y="392.58" width="11.76" height="11.78" fill="#FFFCBB" stroke="#9ea2a8" stroke-width="0.75"/>
<rect x="52.69" y="392.58" width="11.76" height="11.78" fill="#FC8F5A" stroke="#9ea2a8" stroke-width="0.75"/>
<rect x="64.46" y="392.58" width="11.76" height="11.78" fill="#FFFCBB" stroke="#9ea2a8" stroke-width="0.75"/>
<rect x="76.22" y="392.58" width="11.76" height="11.78" fill="#FFFCBB" stroke="#9ea2a8" stroke-width="0.75"/>
<rect x="87.98" y="392.58" width="11.76" height="11.78" fill="#CBE5F0" stroke="#9ea2a8" stroke-width="0.75"/>
<rect x="99.75" y="392.58" width="11.76" height="11.78" fill="#95C2DC" stroke="#9ea2a8" stroke-width="0.75"/>
<rect x="111.51" y="392.58" width="11.76" height="11.78" fill="#95C2DC" stroke="#9ea2a8" stroke-width="0.75"/>
<rect x="123.28" y="392.58" width="11.76" height="11.78" fill="#95C2DC" stroke="#9ea2a8" stroke-width="0.75"/>
<rect x="135.04" y="392.58" width="11.76" height="11.78" fill="#6C9BC8" stroke="#9ea2a8" stroke-width="0.75"/>
<circle cx="92.22" cy="102.37" r="1.08" fill="#4a4a4a" fill-opacity="0.85"/>
<circle cx="95.52" cy="102.37" r="1.08" fill="#4a4a4a" fill-opacity="0.85"/>
<circle cx="21.63" cy="137.71" r="1.08" fill="#4a4a4a" fill-opacity="0.85"/>
<circle cx="24.93" cy="137.71" r="1.08" fill="#4a4a4a" fill-opacity="0.85"/>
<circle cx="139.27" cy="137.71" r="1.08" fill="#4a4a4a" fill-opacity="0.85"/>
<circle cx="142.57" cy="137.71" r="1.08" fill="#4a4a4a" fill-opacity="0.85"/>
<circle cx="21.63" cy="149.49" r="1.08" fill="#4a4a4a" fill-opacity="0.85"/>
<circle cx="24.93" cy="149.49" r="1.08" fill="#4a4a4a" fill-opacity="0.85"/>
<circle cx="139.27" cy="149.49" r="1.08" fill="#4a4a4a" fill-opacity="0.85"/>
<circle cx="142.57" cy="149.49" r="1.08" fill="#4a4a4a" fill-opacity="0.85"/>
<circle cx="92.22" cy="173.05" r="1.08" fill="#4a4a4a" fill-opacity="0.85"/>
<circle cx="95.52" cy="173.05" r="1.08" fill="#4a4a4a" fill-opacity="0.85"/>
<circle cx="21.63" cy="196.61" r="1.08" fill="#4a4a4a" fill-opacity="0.85"/>
<circle cx="24.93" cy="196.61" r="1.08" fill="#4a4a4a" fill-opacity="0.85"/>
<circle cx="139.27" cy="196.61" r="1.08" fill="#4a4a4a" fill-opacity="0.85"/>
<circle cx="142.57" cy="196.61" r="1.08" fill="#4a4a4a" fill-opacity="0.85"/>
<circle cx="21.63" cy="290.85" r="1.08" fill="#4a4a4a" fill-opacity="0.85"/>
<circle cx="24.93" cy="290.85" r="1.08" fill="#4a4a4a" fill-opacity="0.85"/>
<circle cx="139.27" cy="290.85" r="1.08" fill="#4a4a4a" fill-opacity="0.85"/>
<circle cx="142.57" cy="290.85" r="1.08" fill="#4a4a4a" fill-opacity="0.85"/>
<circle cx="33.40" cy="349.75" r="1.08" fill="#4a4a4a" fill-opacity="0.85"/>
<circle cx="36.70" cy="349.75" r="1.08" fill="#4a4a4a" fill-opacity="0.85"/>
<text class="lab" transform="translate(149.80,36.24) scale(0.935,1)" font-size="8.40">C4:0</text>
<text class="lab" transform="translate(149.80,48.02) scale(0.935,1)" font-size="8.40">C8:0</text>
<text class="lab" transform="translate(149.80,59.80) scale(0.935,1)" font-size="8.40">C14:0</text>
<text class="lab" transform="translate(149.80,71.58) scale(0.935,1)" font-size="8.40">C14:1</text>
<text class="lab" transform="translate(149.80,83.36) scale(0.935,1)" font-size="8.40">C15:0</text>
<text class="lab" transform="translate(149.80,95.14) scale(0.935,1)" font-size="8.40">C16:0</text>
<text class="lab" transform="translate(149.80,106.92) scale(0.935,1)" font-size="8.40">C16:1</text>
<text class="lab" transform="translate(149.80,118.70) scale(0.935,1)" font-size="8.40">C17:0</text>
<text class="lab" transform="translate(149.80,130.48) scale(0.935,1)" font-size="8.40">C17:1</text>
<text class="lab" transform="translate(149.80,142.26) scale(0.935,1)" font-size="8.40">C18:0</text>
<text class="lab" transform="translate(149.80,154.04) scale(0.935,1)" font-size="8.40">C18:1n9c</text>
<text class="lab" transform="translate(149.80,165.82) scale(0.935,1)" font-size="8.40">C18:1n9t</text>
<text class="lab" transform="translate(149.80,177.60) scale(0.935,1)" font-size="8.40">C18:2n6c</text>
<text class="lab" transform="translate(149.80,189.38) scale(0.935,1)" font-size="8.40">C18:2n6t</text>
<text class="lab" transform="translate(149.80,201.16) scale(0.935,1)" font-size="8.40">C18:3n3</text>
<text class="lab" transform="translate(149.80,212.94) scale(0.935,1)" font-size="8.40">C18:3n6</text>
<text class="lab" transform="translate(149.80,224.72) scale(0.935,1)" font-size="8.40">C20:1</text>
<text class="lab" transform="translate(149.80,236.50) scale(0.935,1)" font-size="8.40">C20:2</text>
<text class="lab" transform="translate(149.80,248.28) scale(0.935,1)" font-size="8.40">C20:3n6</text>
<text class="lab" transform="translate(149.80,260.06) scale(0.935,1)" font-size="8.40">C20:4n6</text>
<text class="lab" transform="translate(149.80,271.84) scale(0.935,1)" font-size="8.40">C20:5n3</text>
<text class="lab" transform="translate(149.80,283.62) scale(0.935,1)" font-size="8.40">C20:0</text>
<text class="lab" transform="translate(149.80,295.40) scale(0.935,1)" font-size="8.40">C22:6n3;DHA</text>
<text class="lab" transform="translate(149.80,307.18) scale(0.935,1)" font-size="8.40">C24:1</text>
<text class="lab" transform="translate(149.80,318.96) scale(0.935,1)" font-size="8.40">SFA</text>
<text class="lab" transform="translate(149.80,330.74) scale(0.935,1)" font-size="8.40">UFA</text>
<text class="lab" transform="translate(149.80,342.52) scale(0.935,1)" font-size="8.40">MUFA</text>
<text class="lab" transform="translate(149.80,354.30) scale(0.935,1)" font-size="8.40">PUFA</text>
<text class="lab" transform="translate(149.80,366.08) scale(0.935,1)" font-size="8.40">P:S</text>
<text class="lab" transform="translate(149.80,377.86) scale(0.935,1)" font-size="8.40">n-6PUFA</text>
<text class="lab" transform="translate(149.80,389.64) scale(0.935,1)" font-size="8.40">n-3PUFA</text>
<text class="lab" transform="translate(149.80,401.42) scale(0.935,1)" font-size="8.40">n-6:n-3</text>
<text class="lab" transform="translate(20.08,407.36) rotate(90) scale(0.935,1)" font-size="8.40">Bacteroides</text>
<text class="lab" transform="translate(31.85,407.36) rotate(90) scale(0.935,1)" font-size="8.40">unidentified_Lachnospiraceae</text>
<text class="lab" transform="translate(43.61,407.36) rotate(90) scale(0.935,1)" font-size="8.40">Lactobacillus</text>
<text class="lab" transform="translate(55.37,407.36) rotate(90) scale(0.935,1)" font-size="8.40">Megamonas</text>
<text class="lab" transform="translate(67.14,407.36) rotate(90) scale(0.935,1)" font-size="8.40">Lawsonia</text>
<text class="lab" transform="translate(78.90,407.36) rotate(90) scale(0.935,1)" font-size="8.40">Faecalibacterium</text>
<text class="lab" transform="translate(90.67,407.36) rotate(90) scale(0.935,1)" font-size="8.40">Romboutsia</text>
<text class="lab" transform="translate(102.43,407.36) rotate(90) scale(0.935,1)" font-size="8.40">Alistipes</text>
<text class="lab" transform="translate(114.19,407.36) rotate(90) scale(0.935,1)" font-size="8.40">Phascolarctobacterium</text>
<text class="lab" transform="translate(125.96,407.36) rotate(90) scale(0.935,1)" font-size="8.40">Desulfovibrio</text>
<text class="lab" transform="translate(137.72,407.36) rotate(90) scale(0.935,1)" font-size="8.40">Others</text>
<rect x="203.00" y="27.30" width="9.90" height="147.20" fill="url(#cb)"/>
<text class="lab" transform="translate(217.30,30.20) scale(0.935,1)" font-size="8.40">1</text>
<text class="lab" transform="translate(217.30,67.00) scale(0.935,1)" font-size="8.40">0.5</text>
<text class="lab" transform="translate(217.30,103.80) scale(0.935,1)" font-size="8.40">0</text>
<text class="lab" transform="translate(217.30,141.40) scale(0.935,1)" font-size="8.40">−0.5</text>
<text class="lab" transform="translate(217.30,178.20) scale(0.935,1)" font-size="8.40">−1</text>
<text x="4.50" y="16.5" font-family="Liberation Serif" font-weight="bold" font-size="17.8" style="font-family:'Liberation Serif',serif" fill="#000">A</text>
<rect x="258.10" y="27.25" width="11.79" height="11.77" fill="#EF6D48" stroke="#9ea2a8" stroke-width="0.75"/>
<rect x="269.89" y="27.25" width="11.79" height="11.77" fill="#FEE395" stroke="#9ea2a8" stroke-width="0.75"/>
<rect x="281.67" y="27.25" width="11.79" height="11.77" fill="#FEE395" stroke="#9ea2a8" stroke-width="0.75"/>
<rect x="293.46" y="27.25" width="11.79" height="11.77" fill="#FEE395" stroke="#9ea2a8" stroke-width="0.75"/>
<rect x="305.24" y="27.25" width="11.79" height="11.77" fill="#FEE395" stroke="#9ea2a8" stroke-width="0.75"/>
<rect x="317.03" y="27.25" width="11.79" height="11.77" fill="#FEE395" stroke="#9ea2a8" stroke-width="0.75"/>
<rect x="328.82" y="27.25" width="11.79" height="11.77" fill="#6C9BC8" stroke="#9ea2a8" stroke-width="0.75"/>
<rect x="340.60" y="27.25" width="11.79" height="11.77" fill="#EEF9DE" stroke="#9ea2a8" stroke-width="0.75"/>
<rect x="352.39" y="27.25" width="11.79" height="11.77" fill="#EEF9DE" stroke="#9ea2a8" stroke-width="0.75"/>
<rect x="364.17" y="27.25" width="11.79" height="11.77" fill="#EEF9DE" stroke="#9ea2a8" stroke-width="0.75"/>
<rect x="375.96" y="27.25" width="11.79" height="11.77" fill="#6C9BC8" stroke="#9ea2a8" stroke-width="0.75"/>
<rect x="258.10" y="39.02" width="11.79" height="11.77" fill="#FC8F5A" stroke="#9ea2a8" stroke-width="0.75"/>
<rect x="269.89" y="39.02" width="11.79" height="11.77" fill="#5080BA" stroke="#9ea2a8" stroke-width="0.75"/>
<rect x="281.67" y="39.02" width="11.79" height="11.77" fill="#FC8F5A" stroke="#9ea2a8" stroke-width="0.75"/>
<rect x="293.46" y="39.02" width="11.79" height="11.77" fill="#E3F4F2" stroke="#9ea2a8" stroke-width="0.75"/>
<rect x="305.24" y="39.02" width="11.79" height="11.77" fill="#FC8F5A" stroke="#9ea2a8" stroke-width="0.75"/>
<rect x="317.03" y="39.02" width="11.79" height="11.77" fill="#FC8F5A" stroke="#9ea2a8" stroke-width="0.75"/>
<rect x="328.82" y="39.02" width="11.79" height="11.77" fill="#E3F4F2" stroke="#9ea2a8" stroke-width="0.75"/>
<rect x="340.60" y="39.02" width="11.79" height="11.77" fill="#FEDC8D" stroke="#9ea2a8" stroke-width="0.75"/>
<rect x="352.39" y="39.02" width="11.79" height="11.77" fill="#FEDC8D" stroke="#9ea2a8" stroke-width="0.75"/>
<rect x="364.17" y="39.02" width="11.79" height="11.77" fill="#FEDC8D" stroke="#9ea2a8" stroke-width="0.75"/>
<rect x="375.96" y="39.02" width="11.79" height="11.77" fill="#97C3DD" stroke="#9ea2a8" stroke-width="0.75"/>
<rect x="258.10" y="50.80" width="11.79" height="11.77" fill="#EC6544" stroke="#9ea2a8" stroke-width="0.75"/>
<rect x="269.89" y="50.80" width="11.79" height="11.77" fill="#6C9BC8" stroke="#9ea2a8" stroke-width="0.75"/>
<rect x="281.67" y="50.80" width="11.79" height="11.77" fill="#EC6544" stroke="#9ea2a8" stroke-width="0.75"/>
<rect x="293.46" y="50.80" width="11.79" height="11.77" fill="#D5ECF4" stroke="#9ea2a8" stroke-width="0.75"/>
<rect x="305.24" y="50.80" width="11.79" height="11.77" fill="#EC6544" stroke="#9ea2a8" stroke-width="0.75"/>
<rect x="317.03" y="50.80" width="11.79" height="11.77" fill="#EC6544" stroke="#9ea2a8" stroke-width="0.75"/>
<rect x="328.82" y="50.80" width="11.79" height="11.77" fill="#97C3DD" stroke="#9ea2a8" stroke-width="0.75"/>
<rect x="340.60" y="50.80" width="11.79" height="11.77" fill="#FDC880" stroke="#9ea2a8" stroke-width="0.75"/>
<rect x="352.39" y="50.80" width="11.79" height="11.77" fill="#FDC880" stroke="#9ea2a8" stroke-width="0.75"/>
<rect x="364.17" y="50.80" width="11.79" height="11.77" fill="#FDC880" stroke="#9ea2a8" stroke-width="0.75"/>
<rect x="375.96" y="50.80" width="11.79" height="11.77" fill="#6C9BC8" stroke="#9ea2a8" stroke-width="0.75"/>
<rect x="258.10" y="62.57" width="11.79" height="11.77" fill="#FEE395" stroke="#9ea2a8" stroke-width="0.75"/>
<rect x="269.89" y="62.57" width="11.79" height="11.77" fill="#5080BA" stroke="#9ea2a8" stroke-width="0.75"/>
<rect x="281.67" y="62.57" width="11.79" height="11.77" fill="#FEECA3" stroke="#9ea2a8" stroke-width="0.75"/>
<rect x="293.46" y="62.57" width="11.79" height="11.77" fill="#FEECA3" stroke="#9ea2a8" stroke-width="0.75"/>
<rect x="305.24" y="62.57" width="11.79" height="11.77" fill="#FEECA3" stroke="#9ea2a8" stroke-width="0.75"/>
<rect x="317.03" y="62.57" width="11.79" height="11.77" fill="#FEECA3" stroke="#9ea2a8" stroke-width="0.75"/>
<rect x="328.82" y="62.57" width="11.79" height="11.77" fill="#FEE395" stroke="#9ea2a8" stroke-width="0.75"/>
<rect x="340.60" y="62.57" width="11.79" height="11.77" fill="#FCFEC4" stroke="#9ea2a8" stroke-width="0.75"/>
<rect x="352.39" y="62.57" width="11.79" height="11.77" fill="#FCFEC4" stroke="#9ea2a8" stroke-width="0.75"/>
<rect x="364.17" y="62.57" width="11.79" height="11.77" fill="#FCFEC4" stroke="#9ea2a8" stroke-width="0.75"/>
<rect x="375.96" y="62.57" width="11.79" height="11.77" fill="#E3F4F2" stroke="#9ea2a8" stroke-width="0.75"/>
<rect x="258.10" y="74.34" width="11.79" height="11.77" fill="#C4E1EE" stroke="#9ea2a8" stroke-width="0.75"/>
<rect x="269.89" y="74.34" width="11.79" height="11.77" fill="#FFF9B7" stroke="#9ea2a8" stroke-width="0.75"/>
<rect x="281.67" y="74.34" width="11.79" height="11.77" fill="#FDBE79" stroke="#9ea2a8" stroke-width="0.75"/>
<rect x="293.46" y="74.34" width="11.79" height="11.77" fill="#5787BD" stroke="#9ea2a8" stroke-width="0.75"/>
<rect x="305.24" y="74.34" width="11.79" height="11.77" fill="#FDBE79" stroke="#9ea2a8" stroke-width="0.75"/>
<rect x="317.03" y="74.34" width="11.79" height="11.77" fill="#FDBE79" stroke="#9ea2a8" stroke-width="0.75"/>
<rect x="328.82" y="74.34" width="11.79" height="11.77" fill="#FFF9B7" stroke="#9ea2a8" stroke-width="0.75"/>
<rect x="340.60" y="74.34" width="11.79" height="11.77" fill="#DF4431" stroke="#9ea2a8" stroke-width="0.75"/>
<rect x="352.39" y="74.34" width="11.79" height="11.77" fill="#DF4431" stroke="#9ea2a8" stroke-width="0.75"/>
<rect x="364.17" y="74.34" width="11.79" height="11.77" fill="#DF4431" stroke="#9ea2a8" stroke-width="0.75"/>
<rect x="375.96" y="74.34" width="11.79" height="11.77" fill="#FDBE79" stroke="#9ea2a8" stroke-width="0.75"/>
<rect x="258.10" y="86.11" width="11.79" height="11.77" fill="#ECF8E1" stroke="#9ea2a8" stroke-width="0.75"/>
<rect x="269.89" y="86.11" width="11.79" height="11.77" fill="#E3F4F2" stroke="#9ea2a8" stroke-width="0.75"/>
<rect x="281.67" y="86.11" width="11.79" height="11.77" fill="#FC965F" stroke="#9ea2a8" stroke-width="0.75"/>
<rect x="293.46" y="86.11" width="11.79" height="11.77" fill="#5787BD" stroke="#9ea2a8" stroke-width="0.75"/>
<rect x="305.24" y="86.11" width="11.79" height="11.77" fill="#FC965F" stroke="#9ea2a8" stroke-width="0.75"/>
<rect x="317.03" y="86.11" width="11.79" height="11.77" fill="#FC965F" stroke="#9ea2a8" stroke-width="0.75"/>
<rect x="328.82" y="86.11" width="11.79" height="11.77" fill="#FFFCBB" stroke="#9ea2a8" stroke-width="0.75"/>
<rect x="340.60" y="86.11" width="11.79" height="11.77" fill="#D9362A" stroke="#9ea2a8" stroke-width="0.75"/>
<rect x="352.39" y="86.11" width="11.79" height="11.77" fill="#D9362A" stroke="#9ea2a8" stroke-width="0.75"/>
<rect x="364.17" y="86.11" width="11.79" height="11.77" fill="#D9362A" stroke="#9ea2a8" stroke-width="0.75"/>
<rect x="375.96" y="86.11" width="11.79" height="11.77" fill="#FEE395" stroke="#9ea2a8" stroke-width="0.75"/>
<rect x="258.10" y="97.89" width="11.79" height="11.77" fill="#FDC880" stroke="#9ea2a8" stroke-width="0.75"/>
<rect x="269.89" y="97.89" width="11.79" height="11.77" fill="#DAEFF6" stroke="#9ea2a8" stroke-width="0.75"/>
<rect x="281.67" y="97.89" width="11.79" height="11.77" fill="#DAEFF6" stroke="#9ea2a8" stroke-width="0.75"/>
<rect x="293.46" y="97.89" width="11.79" height="11.77" fill="#EC6544" stroke="#9ea2a8" stroke-width="0.75"/>
<rect x="305.24" y="97.89" width="11.79" height="11.77" fill="#DAEFF6" stroke="#9ea2a8" stroke-width="0.75"/>
<rect x="317.03" y="97.89" width="11.79" height="11.77" fill="#DAEFF6" stroke="#9ea2a8" stroke-width="0.75"/>
<rect x="328.82" y="97.89" width="11.79" height="11.77" fill="#FEE395" stroke="#9ea2a8" stroke-width="0.75"/>
<rect x="340.60" y="97.89" width="11.79" height="11.77" fill="#6C9BC8" stroke="#9ea2a8" stroke-width="0.75"/>
<rect x="352.39" y="97.89" width="11.79" height="11.77" fill="#6C9BC8" stroke="#9ea2a8" stroke-width="0.75"/>
<rect x="364.17" y="97.89" width="11.79" height="11.77" fill="#6C9BC8" stroke="#9ea2a8" stroke-width="0.75"/>
<rect x="375.96" y="97.89" width="11.79" height="11.77" fill="#DAEFF6" stroke="#9ea2a8" stroke-width="0.75"/>
<rect x="258.10" y="109.66" width="11.79" height="11.77" fill="#6C9BC8" stroke="#9ea2a8" stroke-width="0.75"/>
<rect x="269.89" y="109.66" width="11.79" height="11.77" fill="#FFF9B7" stroke="#9ea2a8" stroke-width="0.75"/>
<rect x="281.67" y="109.66" width="11.79" height="11.77" fill="#6C9BC8" stroke="#9ea2a8" stroke-width="0.75"/>
<rect x="293.46" y="109.66" width="11.79" height="11.77" fill="#FDC880" stroke="#9ea2a8" stroke-width="0.75"/>
<rect x="305.24" y="109.66" width="11.79" height="11.77" fill="#6C9BC8" stroke="#9ea2a8" stroke-width="0.75"/>
<rect x="317.03" y="109.66" width="11.79" height="11.77" fill="#6C9BC8" stroke="#9ea2a8" stroke-width="0.75"/>
<rect x="328.82" y="109.66" width="11.79" height="11.77" fill="#D73027" stroke="#9ea2a8" stroke-width="0.75"/>
<rect x="340.60" y="109.66" width="11.79" height="11.77" fill="#DAEFF6" stroke="#9ea2a8" stroke-width="0.75"/>
<rect x="352.39" y="109.66" width="11.79" height="11.77" fill="#DAEFF6" stroke="#9ea2a8" stroke-width="0.75"/>
<rect x="364.17" y="109.66" width="11.79" height="11.77" fill="#DAEFF6" stroke="#9ea2a8" stroke-width="0.75"/>
<rect x="375.96" y="109.66" width="11.79" height="11.77" fill="#EF6D48" stroke="#9ea2a8" stroke-width="0.75"/>
<rect x="258.10" y="121.43" width="11.79" height="11.77" fill="#DA382B" stroke="#9ea2a8" stroke-width="0.75"/>
<rect x="269.89" y="121.43" width="11.79" height="11.77" fill="#E3F4F2" stroke="#9ea2a8" stroke-width="0.75"/>
<rect x="281.67" y="121.43" width="11.79" height="11.77" fill="#FEDC8D" stroke="#9ea2a8" stroke-width="0.75"/>
<rect x="293.46" y="121.43" width="11.79" height="11.77" fill="#FEDC8D" stroke="#9ea2a8" stroke-width="0.75"/>
<rect x="305.24" y="121.43" width="11.79" height="11.77" fill="#FEDC8D" stroke="#9ea2a8" stroke-width="0.75"/>
<rect x="317.03" y="121.43" width="11.79" height="11.77" fill="#FEDC8D" stroke="#9ea2a8" stroke-width="0.75"/>
<rect x="328.82" y="121.43" width="11.79" height="11.77" fill="#93C0DC" stroke="#9ea2a8" stroke-width="0.75"/>
<rect x="340.60" y="121.43" width="11.79" height="11.77" fill="#E3F4F2" stroke="#9ea2a8" stroke-width="0.75"/>
<rect x="352.39" y="121.43" width="11.79" height="11.77" fill="#E3F4F2" stroke="#9ea2a8" stroke-width="0.75"/>
<rect x="364.17" y="121.43" width="11.79" height="11.77" fill="#E3F4F2" stroke="#9ea2a8" stroke-width="0.75"/>
<rect x="375.96" y="121.43" width="11.79" height="11.77" fill="#5C8BC0" stroke="#9ea2a8" stroke-width="0.75"/>
<rect x="258.10" y="133.21" width="11.79" height="11.77" fill="#FC8F5A" stroke="#9ea2a8" stroke-width="0.75"/>
<rect x="269.89" y="133.21" width="11.79" height="11.77" fill="#93C0DC" stroke="#9ea2a8" stroke-width="0.75"/>
<rect x="281.67" y="133.21" width="11.79" height="11.77" fill="#DB3B2D" stroke="#9ea2a8" stroke-width="0.75"/>
<rect x="293.46" y="133.21" width="11.79" height="11.77" fill="#93C0DC" stroke="#9ea2a8" stroke-width="0.75"/>
<rect x="305.24" y="133.21" width="11.79" height="11.77" fill="#DB3B2D" stroke="#9ea2a8" stroke-width="0.75"/>
<rect x="317.03" y="133.21" width="11.79" height="11.77" fill="#DB3B2D" stroke="#9ea2a8" stroke-width="0.75"/>
<rect x="328.82" y="133.21" width="11.79" height="11.77" fill="#93C0DC" stroke="#9ea2a8" stroke-width="0.75"/>
<rect x="340.60" y="133.21" width="11.79" height="11.77" fill="#FC8C59" stroke="#9ea2a8" stroke-width="0.75"/>
<rect x="352.39" y="133.21" width="11.79" height="11.77" fill="#FC8C59" stroke="#9ea2a8" stroke-width="0.75"/>
<rect x="364.17" y="133.21" width="11.79" height="11.77" fill="#FC8C59" stroke="#9ea2a8" stroke-width="0.75"/>
<rect x="375.96" y="133.21" width="11.79" height="11.77" fill="#93C0DC" stroke="#9ea2a8" stroke-width="0.75"/>
<rect x="258.10" y="144.98" width="11.79" height="11.77" fill="#FC8F5A" stroke="#9ea2a8" stroke-width="0.75"/>
<rect x="269.89" y="144.98" width="11.79" height="11.77" fill="#E3F4F2" stroke="#9ea2a8" stroke-width="0.75"/>
<rect x="281.67" y="144.98" width="11.79" height="11.77" fill="#DA382B" stroke="#9ea2a8" stroke-width="0.75"/>
<rect x="293.46" y="144.98" width="11.79" height="11.77" fill="#6C9BC8" stroke="#9ea2a8" stroke-width="0.75"/>
<rect x="305.24" y="144.98" width="11.79" height="11.77" fill="#DA382B" stroke="#9ea2a8" stroke-width="0.75"/>
<rect x="317.03" y="144.98" width="11.79" height="11.77" fill="#DA382B" stroke="#9ea2a8" stroke-width="0.75"/>
<rect x="328.82" y="144.98" width="11.79" height="11.77" fill="#85B3D5" stroke="#9ea2a8" stroke-width="0.75"/>
<rect x="340.60" y="144.98" width="11.79" height="11.77" fill="#EB6242" stroke="#9ea2a8" stroke-width="0.75"/>
<rect x="352.39" y="144.98" width="11.79" height="11.77" fill="#EB6242" stroke="#9ea2a8" stroke-width="0.75"/>
<rect x="364.17" y="144.98" width="11.79" height="11.77" fill="#EB6242" stroke="#9ea2a8" stroke-width="0.75"/>
<rect x="375.96" y="144.98" width="11.79" height="11.77" fill="#A8CEE3" stroke="#9ea2a8" stroke-width="0.75"/>
<rect x="258.10" y="156.75" width="11.79" height="11.77" fill="#DAEFF6" stroke="#9ea2a8" stroke-width="0.75"/>
<rect x="269.89" y="156.75" width="11.79" height="11.77" fill="#DA382B" stroke="#9ea2a8" stroke-width="0.75"/>
<rect x="281.67" y="156.75" width="11.79" height="11.77" fill="#DAEFF6" stroke="#9ea2a8" stroke-width="0.75"/>
<rect x="293.46" y="156.75" width="11.79" height="11.77" fill="#FEE598" stroke="#9ea2a8" stroke-width="0.75"/>
<rect x="305.24" y="156.75" width="11.79" height="11.77" fill="#DAEFF6" stroke="#9ea2a8" stroke-width="0.75"/>
<rect x="317.03" y="156.75" width="11.79" height="11.77" fill="#DAEFF6" stroke="#9ea2a8" stroke-width="0.75"/>
<rect x="328.82" y="156.75" width="11.79" height="11.77" fill="#FFF9B7" stroke="#9ea2a8" stroke-width="0.75"/>
<rect x="340.60" y="156.75" width="11.79" height="11.77" fill="#F6FBD0" stroke="#9ea2a8" stroke-width="0.75"/>
<rect x="352.39" y="156.75" width="11.79" height="11.77" fill="#F6FBD0" stroke="#9ea2a8" stroke-width="0.75"/>
<rect x="364.17" y="156.75" width="11.79" height="11.77" fill="#F6FBD0" stroke="#9ea2a8" stroke-width="0.75"/>
<rect x="375.96" y="156.75" width="11.79" height="11.77" fill="#FED488" stroke="#9ea2a8" stroke-width="0.75"/>
<rect x="258.10" y="168.53" width="11.79" height="11.77" fill="#DAEFF6" stroke="#9ea2a8" stroke-width="0.75"/>
<rect x="269.89" y="168.53" width="11.79" height="11.77" fill="#DA382B" stroke="#9ea2a8" stroke-width="0.75"/>
<rect x="281.67" y="168.53" width="11.79" height="11.77" fill="#DAEFF6" stroke="#9ea2a8" stroke-width="0.75"/>
<rect x="293.46" y="168.53" width="11.79" height="11.77" fill="#FEE598" stroke="#9ea2a8" stroke-width="0.75"/>
<rect x="305.24" y="168.53" width="11.79" height="11.77" fill="#DAEFF6" stroke="#9ea2a8" stroke-width="0.75"/>
<rect x="317.03" y="168.53" width="11.79" height="11.77" fill="#DAEFF6" stroke="#9ea2a8" stroke-width="0.75"/>
<rect x="328.82" y="168.53" width="11.79" height="11.77" fill="#FFF9B7" stroke="#9ea2a8" stroke-width="0.75"/>
<rect x="340.60" y="168.53" width="11.79" height="11.77" fill="#F6FBD0" stroke="#9ea2a8" stroke-width="0.75"/>
<rect x="352.39" y="168.53" width="11.79" height="11.77" fill="#F6FBD0" stroke="#9ea2a8" stroke-width="0.75"/>
<rect x="364.17" y="168.53" width="11.79" height="11.77" fill="#F6FBD0" stroke="#9ea2a8" stroke-width="0.75"/>
<rect x="375.96" y="168.53" width="11.79" height="11.77" fill="#FED488" stroke="#9ea2a8" stroke-width="0.75"/>
<rect x="258.10" y="180.30" width="11.79" height="11.77" fill="#DAEFF6" stroke="#9ea2a8" stroke-width="0.75"/>
<rect x="269.89" y="180.30" width="11.79" height="11.77" fill="#DAEFF6" stroke="#9ea2a8" stroke-width="0.75"/>
<rect x="281.67" y="180.30" width="11.79" height="11.77" fill="#FDC880" stroke="#9ea2a8" stroke-width="0.75"/>
<rect x="293.46" y="180.30" width="11.79" height="11.77" fill="#6C9BC8" stroke="#9ea2a8" stroke-width="0.75"/>
<rect x="305.24" y="180.30" width="11.79" height="11.77" fill="#FDC880" stroke="#9ea2a8" stroke-width="0.75"/>
<rect x="317.03" y="180.30" width="11.79" height="11.77" fill="#FDC880" stroke="#9ea2a8" stroke-width="0.75"/>
<rect x="328.82" y="180.30" width="11.79" height="11.77" fill="#FEE395" stroke="#9ea2a8" stroke-width="0.75"/>
<rect x="340.60" y="180.30" width="11.79" height="11.77" fill="#EB6242" stroke="#9ea2a8" stroke-width="0.75"/>
<rect x="352.39" y="180.30" width="11.79" height="11.77" fill="#EB6242" stroke="#9ea2a8" stroke-width="0.75"/>
<rect x="364.17" y="180.30" width="11.79" height="11.77" fill="#EB6242" stroke="#9ea2a8" stroke-width="0.75"/>
<rect x="375.96" y="180.30" width="11.79" height="11.77" fill="#FDC880" stroke="#9ea2a8" stroke-width="0.75"/>
<rect x="258.10" y="192.07" width="11.79" height="11.77" fill="#F4FBD4" stroke="#9ea2a8" stroke-width="0.75"/>
<rect x="269.89" y="192.07" width="11.79" height="11.77" fill="#FEE598" stroke="#9ea2a8" stroke-width="0.75"/>
<rect x="281.67" y="192.07" width="11.79" height="11.77" fill="#FC965F" stroke="#9ea2a8" stroke-width="0.75"/>
<rect x="293.46" y="192.07" width="11.79" height="11.77" fill="#5C8BC0" stroke="#9ea2a8" stroke-width="0.75"/>
<rect x="305.24" y="192.07" width="11.79" height="11.77" fill="#FC965F" stroke="#9ea2a8" stroke-width="0.75"/>
<rect x="317.03" y="192.07" width="11.79" height="11.77" fill="#FC965F" stroke="#9ea2a8" stroke-width="0.75"/>
<rect x="328.82" y="192.07" width="11.79" height="11.77" fill="#E3F4F2" stroke="#9ea2a8" stroke-width="0.75"/>
<rect x="340.60" y="192.07" width="11.79" height="11.77" fill="#DA382B" stroke="#9ea2a8" stroke-width="0.75"/>
<rect x="352.39" y="192.07" width="11.79" height="11.77" fill="#DA382B" stroke="#9ea2a8" stroke-width="0.75"/>
<rect x="364.17" y="192.07" width="11.79" height="11.77" fill="#DA382B" stroke="#9ea2a8" stroke-width="0.75"/>
<rect x="375.96" y="192.07" width="11.79" height="11.77" fill="#FEE395" stroke="#9ea2a8" stroke-width="0.75"/>
<rect x="258.10" y="203.84" width="11.79" height="11.77" fill="#F3764C" stroke="#9ea2a8" stroke-width="0.75"/>
<rect x="269.89" y="203.84" width="11.79" height="11.77" fill="#F4FBD4" stroke="#9ea2a8" stroke-width="0.75"/>
<rect x="281.67" y="203.84" width="11.79" height="11.77" fill="#DA382B" stroke="#9ea2a8" stroke-width="0.75"/>
<rect x="293.46" y="203.84" width="11.79" height="11.77" fill="#97C3DD" stroke="#9ea2a8" stroke-width="0.75"/>
<rect x="305.24" y="203.84" width="11.79" height="11.77" fill="#DA382B" stroke="#9ea2a8" stroke-width="0.75"/>
<rect x="317.03" y="203.84" width="11.79" height="11.77" fill="#DA382B" stroke="#9ea2a8" stroke-width="0.75"/>
<rect x="328.82" y="203.84" width="11.79" height="11.77" fill="#5C8BC0" stroke="#9ea2a8" stroke-width="0.75"/>
<rect x="340.60" y="203.84" width="11.79" height="11.77" fill="#FC8F5A" stroke="#9ea2a8" stroke-width="0.75"/>
<rect x="352.39" y="203.84" width="11.79" height="11.77" fill="#FC8F5A" stroke="#9ea2a8" stroke-width="0.75"/>
<rect x="364.17" y="203.84" width="11.79" height="11.77" fill="#FC8F5A" stroke="#9ea2a8" stroke-width="0.75"/>
<rect x="375.96" y="203.84" width="11.79" height="11.77" fill="#89B8D7" stroke="#9ea2a8" stroke-width="0.75"/>
<rect x="258.10" y="215.62" width="11.79" height="11.77" fill="#FEE090" stroke="#9ea2a8" stroke-width="0.75"/>
<rect x="269.89" y="215.62" width="11.79" height="11.77" fill="#E1F3F6" stroke="#9ea2a8" stroke-width="0.75"/>
<rect x="281.67" y="215.62" width="11.79" height="11.77" fill="#D9362A" stroke="#9ea2a8" stroke-width="0.75"/>
<rect x="293.46" y="215.62" width="11.79" height="11.77" fill="#5C8BC0" stroke="#9ea2a8" stroke-width="0.75"/>
<rect x="305.24" y="215.62" width="11.79" height="11.77" fill="#D9362A" stroke="#9ea2a8" stroke-width="0.75"/>
<rect x="317.03" y="215.62" width="11.79" height="11.77" fill="#D9362A" stroke="#9ea2a8" stroke-width="0.75"/>
<rect x="328.82" y="215.62" width="11.79" height="11.77" fill="#93C0DC" stroke="#9ea2a8" stroke-width="0.75"/>
<rect x="340.60" y="215.62" width="11.79" height="11.77" fill="#D9362A" stroke="#9ea2a8" stroke-width="0.75"/>
<rect x="352.39" y="215.62" width="11.79" height="11.77" fill="#D9362A" stroke="#9ea2a8" stroke-width="0.75"/>
<rect x="364.17" y="215.62" width="11.79" height="11.77" fill="#D9362A" stroke="#9ea2a8" stroke-width="0.75"/>
<rect x="375.96" y="215.62" width="11.79" height="11.77" fill="#E1F3F6" stroke="#9ea2a8" stroke-width="0.75"/>
<rect x="258.10" y="227.39" width="11.79" height="11.77" fill="#FEE090" stroke="#9ea2a8" stroke-width="0.75"/>
<rect x="269.89" y="227.39" width="11.79" height="11.77" fill="#FEE090" stroke="#9ea2a8" stroke-width="0.75"/>
<rect x="281.67" y="227.39" width="11.79" height="11.77" fill="#EB6242" stroke="#9ea2a8" stroke-width="0.75"/>
<rect x="293.46" y="227.39" width="11.79" height="11.77" fill="#6C9BC8" stroke="#9ea2a8" stroke-width="0.75"/>
<rect x="305.24" y="227.39" width="11.79" height="11.77" fill="#EB6242" stroke="#9ea2a8" stroke-width="0.75"/>
<rect x="317.03" y="227.39" width="11.79" height="11.77" fill="#EB6242" stroke="#9ea2a8" stroke-width="0.75"/>
<rect x="328.82" y="227.39" width="11.79" height="11.77" fill="#6C9BC8" stroke="#9ea2a8" stroke-width="0.75"/>
<rect x="340.60" y="227.39" width="11.79" height="11.77" fill="#EB6242" stroke="#9ea2a8" stroke-width="0.75"/>
<rect x="352.39" y="227.39" width="11.79" height="11.77" fill="#EB6242" stroke="#9ea2a8" stroke-width="0.75"/>
<rect x="364.17" y="227.39" width="11.79" height="11.77" fill="#EB6242" stroke="#9ea2a8" stroke-width="0.75"/>
<rect x="375.96" y="227.39" width="11.79" height="11.77" fill="#EEF9DE" stroke="#9ea2a8" stroke-width="0.75"/>
<rect x="258.10" y="239.16" width="11.79" height="11.77" fill="#FEDC8D" stroke="#9ea2a8" stroke-width="0.75"/>
<rect x="269.89" y="239.16" width="11.79" height="11.77" fill="#FC8C59" stroke="#9ea2a8" stroke-width="0.75"/>
<rect x="281.67" y="239.16" width="11.79" height="11.77" fill="#E3F4F2" stroke="#9ea2a8" stroke-width="0.75"/>
<rect x="293.46" y="239.16" width="11.79" height="11.77" fill="#FC8C59" stroke="#9ea2a8" stroke-width="0.75"/>
<rect x="305.24" y="239.16" width="11.79" height="11.77" fill="#E3F4F2" stroke="#9ea2a8" stroke-width="0.75"/>
<rect x="317.03" y="239.16" width="11.79" height="11.77" fill="#E3F4F2" stroke="#9ea2a8" stroke-width="0.75"/>
<rect x="328.82" y="239.16" width="11.79" height="11.77" fill="#E3F4F2" stroke="#9ea2a8" stroke-width="0.75"/>
<rect x="340.60" y="239.16" width="11.79" height="11.77" fill="#9CC6DF" stroke="#9ea2a8" stroke-width="0.75"/>
<rect x="352.39" y="239.16" width="11.79" height="11.77" fill="#9CC6DF" stroke="#9ea2a8" stroke-width="0.75"/>
<rect x="364.17" y="239.16" width="11.79" height="11.77" fill="#9CC6DF" stroke="#9ea2a8" stroke-width="0.75"/>
<rect x="375.96" y="239.16" width="11.79" height="11.77" fill="#E3F4F2" stroke="#9ea2a8" stroke-width="0.75"/>
<rect x="258.10" y="250.94" width="11.79" height="11.77" fill="#FEEBA0" stroke="#9ea2a8" stroke-width="0.75"/>
<rect x="269.89" y="250.94" width="11.79" height="11.77" fill="#5585BC" stroke="#9ea2a8" stroke-width="0.75"/>
<rect x="281.67" y="250.94" width="11.79" height="11.77" fill="#FEE090" stroke="#9ea2a8" stroke-width="0.75"/>
<rect x="293.46" y="250.94" width="11.79" height="11.77" fill="#E3F4F2" stroke="#9ea2a8" stroke-width="0.75"/>
<rect x="305.24" y="250.94" width="11.79" height="11.77" fill="#FEE090" stroke="#9ea2a8" stroke-width="0.75"/>
<rect x="317.03" y="250.94" width="11.79" height="11.77" fill="#FEE090" stroke="#9ea2a8" stroke-width="0.75"/>
<rect x="328.82" y="250.94" width="11.79" height="11.77" fill="#FEE090" stroke="#9ea2a8" stroke-width="0.75"/>
<rect x="340.60" y="250.94" width="11.79" height="11.77" fill="#FEE090" stroke="#9ea2a8" stroke-width="0.75"/>
<rect x="352.39" y="250.94" width="11.79" height="11.77" fill="#FEE090" stroke="#9ea2a8" stroke-width="0.75"/>
<rect x="364.17" y="250.94" width="11.79" height="11.77" fill="#FEE090" stroke="#9ea2a8" stroke-width="0.75"/>
<rect x="375.96" y="250.94" width="11.79" height="11.77" fill="#FCFEC4" stroke="#9ea2a8" stroke-width="0.75"/>
<rect x="258.10" y="262.71" width="11.79" height="11.77" fill="#FFFAB8" stroke="#9ea2a8" stroke-width="0.75"/>
<rect x="269.89" y="262.71" width="11.79" height="11.77" fill="#F3FAD5" stroke="#9ea2a8" stroke-width="0.75"/>
<rect x="281.67" y="262.71" width="11.79" height="11.77" fill="#EB6242" stroke="#9ea2a8" stroke-width="0.75"/>
<rect x="293.46" y="262.71" width="11.79" height="11.77" fill="#4473BE" stroke="#9ea2a8" stroke-width="0.75"/>
<rect x="305.24" y="262.71" width="11.79" height="11.77" fill="#EB6242" stroke="#9ea2a8" stroke-width="0.75"/>
<rect x="317.03" y="262.71" width="11.79" height="11.77" fill="#EB6242" stroke="#9ea2a8" stroke-width="0.75"/>
<rect x="328.82" y="262.71" width="11.79" height="11.77" fill="#DAEFF6" stroke="#9ea2a8" stroke-width="0.75"/>
<rect x="340.60" y="262.71" width="11.79" height="11.77" fill="#D73027" stroke="#9ea2a8" stroke-width="0.75"/>
<rect x="352.39" y="262.71" width="11.79" height="11.77" fill="#D73027" stroke="#9ea2a8" stroke-width="0.75"/>
<rect x="364.17" y="262.71" width="11.79" height="11.77" fill="#D73027" stroke="#9ea2a8" stroke-width="0.75"/>
<rect x="375.96" y="262.71" width="11.79" height="11.77" fill="#FFFAB8" stroke="#9ea2a8" stroke-width="0.75"/>
<rect x="258.10" y="274.48" width="11.79" height="11.77" fill="#D5ECF4" stroke="#9ea2a8" stroke-width="0.75"/>
<rect x="269.89" y="274.48" width="11.79" height="11.77" fill="#A8CEE3" stroke="#9ea2a8" stroke-width="0.75"/>
<rect x="281.67" y="274.48" width="11.79" height="11.77" fill="#D5ECF4" stroke="#9ea2a8" stroke-width="0.75"/>
<rect x="293.46" y="274.48" width="11.79" height="11.77" fill="#FEE090" stroke="#9ea2a8" stroke-width="0.75"/>
<rect x="305.24" y="274.48" width="11.79" height="11.77" fill="#D5ECF4" stroke="#9ea2a8" stroke-width="0.75"/>
<rect x="317.03" y="274.48" width="11.79" height="11.77" fill="#D5ECF4" stroke="#9ea2a8" stroke-width="0.75"/>
<rect x="328.82" y="274.48" width="11.79" height="11.77" fill="#EA5F40" stroke="#9ea2a8" stroke-width="0.75"/>
<rect x="340.60" y="274.48" width="11.79" height="11.77" fill="#F6FBD0" stroke="#9ea2a8" stroke-width="0.75"/>
<rect x="352.39" y="274.48" width="11.79" height="11.77" fill="#F6FBD0" stroke="#9ea2a8" stroke-width="0.75"/>
<rect x="364.17" y="274.48" width="11.79" height="11.77" fill="#F6FBD0" stroke="#9ea2a8" stroke-width="0.75"/>
<rect x="375.96" y="274.48" width="11.79" height="11.77" fill="#FDC880" stroke="#9ea2a8" stroke-width="0.75"/>
<rect x="258.10" y="286.26" width="11.79" height="11.77" fill="#FEE090" stroke="#9ea2a8" stroke-width="0.75"/>
<rect x="269.89" y="286.26" width="11.79" height="11.77" fill="#E1F3F6" stroke="#9ea2a8" stroke-width="0.75"/>
<rect x="281.67" y="286.26" width="11.79" height="11.77" fill="#D9362A" stroke="#9ea2a8" stroke-width="0.75"/>
<rect x="293.46" y="286.26" width="11.79" height="11.77" fill="#5C8BC0" stroke="#9ea2a8" stroke-width="0.75"/>
<rect x="305.24" y="286.26" width="11.79" height="11.77" fill="#D9362A" stroke="#9ea2a8" stroke-width="0.75"/>
<rect x="317.03" y="286.26" width="11.79" height="11.77" fill="#D9362A" stroke="#9ea2a8" stroke-width="0.75"/>
<rect x="328.82" y="286.26" width="11.79" height="11.77" fill="#93C0DC" stroke="#9ea2a8" stroke-width="0.75"/>
<rect x="340.60" y="286.26" width="11.79" height="11.77" fill="#D9362A" stroke="#9ea2a8" stroke-width="0.75"/>
<rect x="352.39" y="286.26" width="11.79" height="11.77" fill="#D9362A" stroke="#9ea2a8" stroke-width="0.75"/>
<rect x="364.17" y="286.26" width="11.79" height="11.77" fill="#D9362A" stroke="#9ea2a8" stroke-width="0.75"/>
<rect x="375.96" y="286.26" width="11.79" height="11.77" fill="#E1F3F6" stroke="#9ea2a8" stroke-width="0.75"/>
<rect x="258.10" y="298.03" width="11.79" height="11.77" fill="#FEE395" stroke="#9ea2a8" stroke-width="0.75"/>
<rect x="269.89" y="298.03" width="11.79" height="11.77" fill="#89B8D7" stroke="#9ea2a8" stroke-width="0.75"/>
<rect x="281.67" y="298.03" width="11.79" height="11.77" fill="#EF6D48" stroke="#9ea2a8" stroke-width="0.75"/>
<rect x="293.46" y="298.03" width="11.79" height="11.77" fill="#89B8D7" stroke="#9ea2a8" stroke-width="0.75"/>
<rect x="305.24" y="298.03" width="11.79" height="11.77" fill="#EF6D48" stroke="#9ea2a8" stroke-width="0.75"/>
<rect x="317.03" y="298.03" width="11.79" height="11.77" fill="#EF6D48" stroke="#9ea2a8" stroke-width="0.75"/>
<rect x="328.82" y="298.03" width="11.79" height="11.77" fill="#F1FAD9" stroke="#9ea2a8" stroke-width="0.75"/>
<rect x="340.60" y="298.03" width="11.79" height="11.77" fill="#EF6D48" stroke="#9ea2a8" stroke-width="0.75"/>
<rect x="352.39" y="298.03" width="11.79" height="11.77" fill="#EF6D48" stroke="#9ea2a8" stroke-width="0.75"/>
<rect x="364.17" y="298.03" width="11.79" height="11.77" fill="#EF6D48" stroke="#9ea2a8" stroke-width="0.75"/>
<rect x="375.96" y="298.03" width="11.79" height="11.77" fill="#EBF7E5" stroke="#9ea2a8" stroke-width="0.75"/>
<rect x="258.10" y="309.80" width="11.79" height="11.77" fill="#FFFAB8" stroke="#9ea2a8" stroke-width="0.75"/>
<rect x="269.89" y="309.80" width="11.79" height="11.77" fill="#F3FAD5" stroke="#9ea2a8" stroke-width="0.75"/>
<rect x="281.67" y="309.80" width="11.79" height="11.77" fill="#EB6242" stroke="#9ea2a8" stroke-width="0.75"/>
<rect x="293.46" y="309.80" width="11.79" height="11.77" fill="#4473BE" stroke="#9ea2a8" stroke-width="0.75"/>
<rect x="305.24" y="309.80" width="11.79" height="11.77" fill="#EB6242" stroke="#9ea2a8" stroke-width="0.75"/>
<rect x="317.03" y="309.80" width="11.79" height="11.77" fill="#EB6242" stroke="#9ea2a8" stroke-width="0.75"/>
<rect x="328.82" y="309.80" width="11.79" height="11.77" fill="#DAEFF6" stroke="#9ea2a8" stroke-width="0.75"/>
<rect x="340.60" y="309.80" width="11.79" height="11.77" fill="#D73027" stroke="#9ea2a8" stroke-width="0.75"/>
<rect x="352.39" y="309.80" width="11.79" height="11.77" fill="#D73027" stroke="#9ea2a8" stroke-width="0.75"/>
<rect x="364.17" y="309.80" width="11.79" height="11.77" fill="#D73027" stroke="#9ea2a8" stroke-width="0.75"/>
<rect x="375.96" y="309.80" width="11.79" height="11.77" fill="#FFFAB8" stroke="#9ea2a8" stroke-width="0.75"/>
<rect x="258.10" y="321.57" width="11.79" height="11.77" fill="#4473BE" stroke="#9ea2a8" stroke-width="0.75"/>
<rect x="269.89" y="321.57" width="11.79" height="11.77" fill="#FDC880" stroke="#9ea2a8" stroke-width="0.75"/>
<rect x="281.67" y="321.57" width="11.79" height="11.77" fill="#A8CEE3" stroke="#9ea2a8" stroke-width="0.75"/>
<rect x="293.46" y="321.57" width="11.79" height="11.77" fill="#FFFCBB" stroke="#9ea2a8" stroke-width="0.75"/>
<rect x="305.24" y="321.57" width="11.79" height="11.77" fill="#A8CEE3" stroke="#9ea2a8" stroke-width="0.75"/>
<rect x="317.03" y="321.57" width="11.79" height="11.77" fill="#A8CEE3" stroke="#9ea2a8" stroke-width="0.75"/>
<rect x="328.82" y="321.57" width="11.79" height="11.77" fill="#EA5F40" stroke="#9ea2a8" stroke-width="0.75"/>
<rect x="340.60" y="321.57" width="11.79" height="11.77" fill="#FFFDBC" stroke="#9ea2a8" stroke-width="0.75"/>
<rect x="352.39" y="321.57" width="11.79" height="11.77" fill="#FFFDBC" stroke="#9ea2a8" stroke-width="0.75"/>
<rect x="364.17" y="321.57" width="11.79" height="11.77" fill="#FFFDBC" stroke="#9ea2a8" stroke-width="0.75"/>
<rect x="375.96" y="321.57" width="11.79" height="11.77" fill="#D9362A" stroke="#9ea2a8" stroke-width="0.75"/>
<rect x="258.10" y="333.35" width="11.79" height="11.77" fill="#F1FAD9" stroke="#9ea2a8" stroke-width="0.75"/>
<rect x="269.89" y="333.35" width="11.79" height="11.77" fill="#EB6242" stroke="#9ea2a8" stroke-width="0.75"/>
<rect x="281.67" y="333.35" width="11.79" height="11.77" fill="#FEE395" stroke="#9ea2a8" stroke-width="0.75"/>
<rect x="293.46" y="333.35" width="11.79" height="11.77" fill="#DAEFF6" stroke="#9ea2a8" stroke-width="0.75"/>
<rect x="305.24" y="333.35" width="11.79" height="11.77" fill="#FEE395" stroke="#9ea2a8" stroke-width="0.75"/>
<rect x="317.03" y="333.35" width="11.79" height="11.77" fill="#FEE395" stroke="#9ea2a8" stroke-width="0.75"/>
<rect x="328.82" y="333.35" width="11.79" height="11.77" fill="#DAEFF6" stroke="#9ea2a8" stroke-width="0.75"/>
<rect x="340.60" y="333.35" width="11.79" height="11.77" fill="#FDC880" stroke="#9ea2a8" stroke-width="0.75"/>
<rect x="352.39" y="333.35" width="11.79" height="11.77" fill="#FDC880" stroke="#9ea2a8" stroke-width="0.75"/>
<rect x="364.17" y="333.35" width="11.79" height="11.77" fill="#FDC880" stroke="#9ea2a8" stroke-width="0.75"/>
<rect x="375.96" y="333.35" width="11.79" height="11.77" fill="#FEE395" stroke="#9ea2a8" stroke-width="0.75"/>
<rect x="258.10" y="345.12" width="11.79" height="11.77" fill="#ED6845" stroke="#9ea2a8" stroke-width="0.75"/>
<rect x="269.89" y="345.12" width="11.79" height="11.77" fill="#6C9BC8" stroke="#9ea2a8" stroke-width="0.75"/>
<rect x="281.67" y="345.12" width="11.79" height="11.77" fill="#ED6845" stroke="#9ea2a8" stroke-width="0.75"/>
<rect x="293.46" y="345.12" width="11.79" height="11.77" fill="#E0F3F7" stroke="#9ea2a8" stroke-width="0.75"/>
<rect x="305.24" y="345.12" width="11.79" height="11.77" fill="#ED6845" stroke="#9ea2a8" stroke-width="0.75"/>
<rect x="317.03" y="345.12" width="11.79" height="11.77" fill="#ED6845" stroke="#9ea2a8" stroke-width="0.75"/>
<rect x="328.82" y="345.12" width="11.79" height="11.77" fill="#A6CDE3" stroke="#9ea2a8" stroke-width="0.75"/>
<rect x="340.60" y="345.12" width="11.79" height="11.77" fill="#FDC880" stroke="#9ea2a8" stroke-width="0.75"/>
<rect x="352.39" y="345.12" width="11.79" height="11.77" fill="#FDC880" stroke="#9ea2a8" stroke-width="0.75"/>
<rect x="364.17" y="345.12" width="11.79" height="11.77" fill="#FDC880" stroke="#9ea2a8" stroke-width="0.75"/>
<rect x="375.96" y="345.12" width="11.79" height="11.77" fill="#6C9BC8" stroke="#9ea2a8" stroke-width="0.75"/>
<rect x="258.10" y="356.89" width="11.79" height="11.77" fill="#6C9BC8" stroke="#9ea2a8" stroke-width="0.75"/>
<rect x="269.89" y="356.89" width="11.79" height="11.77" fill="#ED6845" stroke="#9ea2a8" stroke-width="0.75"/>
<rect x="281.67" y="356.89" width="11.79" height="11.77" fill="#6C9BC8" stroke="#9ea2a8" stroke-width="0.75"/>
<rect x="293.46" y="356.89" width="11.79" height="11.77" fill="#FDC880" stroke="#9ea2a8" stroke-width="0.75"/>
<rect x="305.24" y="356.89" width="11.79" height="11.77" fill="#6C9BC8" stroke="#9ea2a8" stroke-width="0.75"/>
<rect x="317.03" y="356.89" width="11.79" height="11.77" fill="#6C9BC8" stroke="#9ea2a8" stroke-width="0.75"/>
<rect x="328.82" y="356.89" width="11.79" height="11.77" fill="#FC8C59" stroke="#9ea2a8" stroke-width="0.75"/>
<rect x="340.60" y="356.89" width="11.79" height="11.77" fill="#C4E1EE" stroke="#9ea2a8" stroke-width="0.75"/>
<rect x="352.39" y="356.89" width="11.79" height="11.77" fill="#C4E1EE" stroke="#9ea2a8" stroke-width="0.75"/>
<rect x="364.17" y="356.89" width="11.79" height="11.77" fill="#C4E1EE" stroke="#9ea2a8" stroke-width="0.75"/>
<rect x="375.96" y="356.89" width="11.79" height="11.77" fill="#EB6242" stroke="#9ea2a8" stroke-width="0.75"/>
<rect x="258.10" y="368.67" width="11.79" height="11.77" fill="#E0F3F7" stroke="#9ea2a8" stroke-width="0.75"/>
<rect x="269.89" y="368.67" width="11.79" height="11.77" fill="#DA382B" stroke="#9ea2a8" stroke-width="0.75"/>
<rect x="281.67" y="368.67" width="11.79" height="11.77" fill="#E0F3F7" stroke="#9ea2a8" stroke-width="0.75"/>
<rect x="293.46" y="368.67" width="11.79" height="11.77" fill="#FEE395" stroke="#9ea2a8" stroke-width="0.75"/>
<rect x="305.24" y="368.67" width="11.79" height="11.77" fill="#E0F3F7" stroke="#9ea2a8" stroke-width="0.75"/>
<rect x="317.03" y="368.67" width="11.79" height="11.77" fill="#E0F3F7" stroke="#9ea2a8" stroke-width="0.75"/>
<rect x="328.82" y="368.67" width="11.79" height="11.77" fill="#FFFCBB" stroke="#9ea2a8" stroke-width="0.75"/>
<rect x="340.60" y="368.67" width="11.79" height="11.77" fill="#F4FBD4" stroke="#9ea2a8" stroke-width="0.75"/>
<rect x="352.39" y="368.67" width="11.79" height="11.77" fill="#F4FBD4" stroke="#9ea2a8" stroke-width="0.75"/>
<rect x="364.17" y="368.67" width="11.79" height="11.77" fill="#F4FBD4" stroke="#9ea2a8" stroke-width="0.75"/>
<rect x="375.96" y="368.67" width="11.79" height="11.77" fill="#FDC880" stroke="#9ea2a8" stroke-width="0.75"/>
<rect x="258.10" y="380.44" width="11.79" height="11.77" fill="#DAEFF6" stroke="#9ea2a8" stroke-width="0.75"/>
<rect x="269.89" y="380.44" width="11.79" height="11.77" fill="#DAEFF6" stroke="#9ea2a8" stroke-width="0.75"/>
<rect x="281.67" y="380.44" width="11.79" height="11.77" fill="#FDC880" stroke="#9ea2a8" stroke-width="0.75"/>
<rect x="293.46" y="380.44" width="11.79" height="11.77" fill="#6C9BC8" stroke="#9ea2a8" stroke-width="0.75"/>
<rect x="305.24" y="380.44" width="11.79" height="11.77" fill="#FDC880" stroke="#9ea2a8" stroke-width="0.75"/>
<rect x="317.03" y="380.44" width="11.79" height="11.77" fill="#FDC880" stroke="#9ea2a8" stroke-width="0.75"/>
<rect x="328.82" y="380.44" width="11.79" height="11.77" fill="#FEE395" stroke="#9ea2a8" stroke-width="0.75"/>
<rect x="340.60" y="380.44" width="11.79" height="11.77" fill="#EB6242" stroke="#9ea2a8" stroke-width="0.75"/>
<rect x="352.39" y="380.44" width="11.79" height="11.77" fill="#EB6242" stroke="#9ea2a8" stroke-width="0.75"/>
<rect x="364.17" y="380.44" width="11.79" height="11.77" fill="#EB6242" stroke="#9ea2a8" stroke-width="0.75"/>
<rect x="375.96" y="380.44" width="11.79" height="11.77" fill="#FDC880" stroke="#9ea2a8" stroke-width="0.75"/>
<rect x="258.10" y="392.21" width="11.79" height="11.77" fill="#DAEFF6" stroke="#9ea2a8" stroke-width="0.75"/>
<rect x="269.89" y="392.21" width="11.79" height="11.77" fill="#DAEFF6" stroke="#9ea2a8" stroke-width="0.75"/>
<rect x="281.67" y="392.21" width="11.79" height="11.77" fill="#FDC880" stroke="#9ea2a8" stroke-width="0.75"/>
<rect x="293.46" y="392.21" width="11.79" height="11.77" fill="#6C9BC8" stroke="#9ea2a8" stroke-width="0.75"/>
<rect x="305.24" y="392.21" width="11.79" height="11.77" fill="#FDC880" stroke="#9ea2a8" stroke-width="0.75"/>
<rect x="317.03" y="392.21" width="11.79" height="11.77" fill="#FDC880" stroke="#9ea2a8" stroke-width="0.75"/>
<rect x="328.82" y="392.21" width="11.79" height="11.77" fill="#FEE395" stroke="#9ea2a8" stroke-width="0.75"/>
<rect x="340.60" y="392.21" width="11.79" height="11.77" fill="#EB6242" stroke="#9ea2a8" stroke-width="0.75"/>
<rect x="352.39" y="392.21" width="11.79" height="11.77" fill="#EB6242" stroke="#9ea2a8" stroke-width="0.75"/>
<rect x="364.17" y="392.21" width="11.79" height="11.77" fill="#EB6242" stroke="#9ea2a8" stroke-width="0.75"/>
<rect x="375.96" y="392.21" width="11.79" height="11.77" fill="#FDC880" stroke="#9ea2a8" stroke-width="0.75"/>
<rect x="258.10" y="403.99" width="11.79" height="11.77" fill="#DAEFF6" stroke="#9ea2a8" stroke-width="0.75"/>
<rect x="269.89" y="403.99" width="11.79" height="11.77" fill="#DAEFF6" stroke="#9ea2a8" stroke-width="0.75"/>
<rect x="281.67" y="403.99" width="11.79" height="11.77" fill="#FDC880" stroke="#9ea2a8" stroke-width="0.75"/>
<rect x="293.46" y="403.99" width="11.79" height="11.77" fill="#6C9BC8" stroke="#9ea2a8" stroke-width="0.75"/>
<rect x="305.24" y="403.99" width="11.79" height="11.77" fill="#FDC880" stroke="#9ea2a8" stroke-width="0.75"/>
<rect x="317.03" y="403.99" width="11.79" height="11.77" fill="#FDC880" stroke="#9ea2a8" stroke-width="0.75"/>
<rect x="328.82" y="403.99" width="11.79" height="11.77" fill="#FEE395" stroke="#9ea2a8" stroke-width="0.75"/>
<rect x="340.60" y="403.99" width="11.79" height="11.77" fill="#EB6242" stroke="#9ea2a8" stroke-width="0.75"/>
<rect x="352.39" y="403.99" width="11.79" height="11.77" fill="#EB6242" stroke="#9ea2a8" stroke-width="0.75"/>
<rect x="364.17" y="403.99" width="11.79" height="11.77" fill="#EB6242" stroke="#9ea2a8" stroke-width="0.75"/>
<rect x="375.96" y="403.99" width="11.79" height="11.77" fill="#FDC880" stroke="#9ea2a8" stroke-width="0.75"/>
<rect x="258.10" y="415.76" width="11.79" height="11.77" fill="#FFFAB8" stroke="#9ea2a8" stroke-width="0.75"/>
<rect x="269.89" y="415.76" width="11.79" height="11.77" fill="#F3FAD5" stroke="#9ea2a8" stroke-width="0.75"/>
<rect x="281.67" y="415.76" width="11.79" height="11.77" fill="#EB6242" stroke="#9ea2a8" stroke-width="0.75"/>
<rect x="293.46" y="415.76" width="11.79" height="11.77" fill="#4473BE" stroke="#9ea2a8" stroke-width="0.75"/>
<rect x="305.24" y="415.76" width="11.79" height="11.77" fill="#EB6242" stroke="#9ea2a8" stroke-width="0.75"/>
<rect x="317.03" y="415.76" width="11.79" height="11.77" fill="#EB6242" stroke="#9ea2a8" stroke-width="0.75"/>
<rect x="328.82" y="415.76" width="11.79" height="11.77" fill="#DAEFF6" stroke="#9ea2a8" stroke-width="0.75"/>
<rect x="340.60" y="415.76" width="11.79" height="11.77" fill="#D73027" stroke="#9ea2a8" stroke-width="0.75"/>
<rect x="352.39" y="415.76" width="11.79" height="11.77" fill="#D73027" stroke="#9ea2a8" stroke-width="0.75"/>
<rect x="364.17" y="415.76" width="11.79" height="11.77" fill="#D73027" stroke="#9ea2a8" stroke-width="0.75"/>
<rect x="375.96" y="415.76" width="11.79" height="11.77" fill="#FFFAB8" stroke="#9ea2a8" stroke-width="0.75"/>
<rect x="258.10" y="427.53" width="11.79" height="11.77" fill="#DA382B" stroke="#9ea2a8" stroke-width="0.75"/>
<rect x="269.89" y="427.53" width="11.79" height="11.77" fill="#DAEFF6" stroke="#9ea2a8" stroke-width="0.75"/>
<rect x="281.67" y="427.53" width="11.79" height="11.77" fill="#FC8F5A" stroke="#9ea2a8" stroke-width="0.75"/>
<rect x="293.46" y="427.53" width="11.79" height="11.77" fill="#FFFCBB" stroke="#9ea2a8" stroke-width="0.75"/>
<rect x="305.24" y="427.53" width="11.79" height="11.77" fill="#FC8F5A" stroke="#9ea2a8" stroke-width="0.75"/>
<rect x="317.03" y="427.53" width="11.79" height="11.77" fill="#FC8F5A" stroke="#9ea2a8" stroke-width="0.75"/>
<rect x="328.82" y="427.53" width="11.79" height="11.77" fill="#6C9BC8" stroke="#9ea2a8" stroke-width="0.75"/>
<rect x="340.60" y="427.53" width="11.79" height="11.77" fill="#FFFDBC" stroke="#9ea2a8" stroke-width="0.75"/>
<rect x="352.39" y="427.53" width="11.79" height="11.77" fill="#FFFDBC" stroke="#9ea2a8" stroke-width="0.75"/>
<rect x="364.17" y="427.53" width="11.79" height="11.77" fill="#FFFDBC" stroke="#9ea2a8" stroke-width="0.75"/>
<rect x="375.96" y="427.53" width="11.79" height="11.77" fill="#4473BE" stroke="#9ea2a8" stroke-width="0.75"/>
<circle cx="333.06" cy="113.95" r="1.08" fill="#4a4a4a" fill-opacity="0.85"/>
<circle cx="336.36" cy="113.95" r="1.08" fill="#4a4a4a" fill-opacity="0.85"/>
<circle cx="285.92" cy="149.27" r="1.08" fill="#4a4a4a" fill-opacity="0.85"/>
<circle cx="289.21" cy="149.27" r="1.08" fill="#4a4a4a" fill-opacity="0.85"/>
<circle cx="309.49" cy="149.27" r="1.08" fill="#4a4a4a" fill-opacity="0.85"/>
<circle cx="312.79" cy="149.27" r="1.08" fill="#4a4a4a" fill-opacity="0.85"/>
<circle cx="321.27" cy="149.27" r="1.08" fill="#4a4a4a" fill-opacity="0.85"/>
<circle cx="324.57" cy="149.27" r="1.08" fill="#4a4a4a" fill-opacity="0.85"/>
<circle cx="274.13" cy="161.04" r="1.08" fill="#4a4a4a" fill-opacity="0.85"/>
<circle cx="277.43" cy="161.04" r="1.08" fill="#4a4a4a" fill-opacity="0.85"/>
<circle cx="274.13" cy="172.81" r="1.08" fill="#4a4a4a" fill-opacity="0.85"/>
<circle cx="277.43" cy="172.81" r="1.08" fill="#4a4a4a" fill-opacity="0.85"/>
<text x="299.35" y="271.30" font-size="7.6" fill="#3a3a3a" text-anchor="middle">NA</text>
<circle cx="344.85" cy="267.00" r="1.08" fill="#4a4a4a" fill-opacity="0.85"/>
<circle cx="348.14" cy="267.00" r="1.08" fill="#4a4a4a" fill-opacity="0.85"/>
<circle cx="356.63" cy="267.00" r="1.08" fill="#4a4a4a" fill-opacity="0.85"/>
<circle cx="359.93" cy="267.00" r="1.08" fill="#4a4a4a" fill-opacity="0.85"/>
<circle cx="368.42" cy="267.00" r="1.08" fill="#4a4a4a" fill-opacity="0.85"/>
<circle cx="371.72" cy="267.00" r="1.08" fill="#4a4a4a" fill-opacity="0.85"/>
<text x="299.35" y="318.39" font-size="7.6" fill="#3a3a3a" text-anchor="middle">NA</text>
<circle cx="344.85" cy="314.09" r="1.08" fill="#4a4a4a" fill-opacity="0.85"/>
<circle cx="348.14" cy="314.09" r="1.08" fill="#4a4a4a" fill-opacity="0.85"/>
<circle cx="356.63" cy="314.09" r="1.08" fill="#4a4a4a" fill-opacity="0.85"/>
<circle cx="359.93" cy="314.09" r="1.08" fill="#4a4a4a" fill-opacity="0.85"/>
<circle cx="368.42" cy="314.09" r="1.08" fill="#4a4a4a" fill-opacity="0.85"/>
<circle cx="371.72" cy="314.09" r="1.08" fill="#4a4a4a" fill-opacity="0.85"/>
<text x="263.99" y="330.16" font-size="7.6" fill="#3a3a3a" text-anchor="middle">NA</text>
<circle cx="380.20" cy="325.86" r="1.08" fill="#4a4a4a" fill-opacity="0.85"/>
<circle cx="383.50" cy="325.86" r="1.08" fill="#4a4a4a" fill-opacity="0.85"/>
<circle cx="274.13" cy="372.95" r="1.08" fill="#4a4a4a" fill-opacity="0.85"/>
<circle cx="277.43" cy="372.95" r="1.08" fill="#4a4a4a" fill-opacity="0.85"/>
<text x="299.35" y="424.35" font-size="7.6" fill="#3a3a3a" text-anchor="middle">NA</text>
<circle cx="344.85" cy="420.05" r="1.08" fill="#4a4a4a" fill-opacity="0.85"/>
<circle cx="348.14" cy="420.05" r="1.08" fill="#4a4a4a" fill-opacity="0.85"/>
<circle cx="356.63" cy="420.05" r="1.08" fill="#4a4a4a" fill-opacity="0.85"/>
<circle cx="359.93" cy="420.05" r="1.08" fill="#4a4a4a" fill-opacity="0.85"/>
<circle cx="368.42" cy="420.05" r="1.08" fill="#4a4a4a" fill-opacity="0.85"/>
<circle cx="371.72" cy="420.05" r="1.08" fill="#4a4a4a" fill-opacity="0.85"/>
<circle cx="262.34" cy="431.82" r="1.08" fill="#4a4a4a" fill-opacity="0.85"/>
<circle cx="265.64" cy="431.82" r="1.08" fill="#4a4a4a" fill-opacity="0.85"/>
<text x="381.85" y="436.12" font-size="7.6" fill="#3a3a3a" text-anchor="middle">NA</text>
<text class="lab" transform="translate(390.75,36.09) scale(0.935,1)" font-size="8.40">C12:0</text>
<text class="lab" transform="translate(390.75,47.86) scale(0.935,1)" font-size="8.40">C13:0</text>
<text class="lab" transform="translate(390.75,59.63) scale(0.935,1)" font-size="8.40">C14:0</text>
<text class="lab" transform="translate(390.75,71.41) scale(0.935,1)" font-size="8.40">C14:1</text>
<text class="lab" transform="translate(390.75,83.18) scale(0.935,1)" font-size="8.40">C15:0</text>
<text class="lab" transform="translate(390.75,94.95) scale(0.935,1)" font-size="8.40">C15:1</text>
<text class="lab" transform="translate(390.75,106.72) scale(0.935,1)" font-size="8.40">C16:0</text>
<text class="lab" transform="translate(390.75,118.50) scale(0.935,1)" font-size="8.40">C16:1</text>
<text class="lab" transform="translate(390.75,130.27) scale(0.935,1)" font-size="8.40">C17:0</text>
<text class="lab" transform="translate(390.75,142.04) scale(0.935,1)" font-size="8.40">C17:1</text>
<text class="lab" transform="translate(390.75,153.82) scale(0.935,1)" font-size="8.40">C18:0</text>
<text class="lab" transform="translate(390.75,165.59) scale(0.935,1)" font-size="8.40">C18:1n9c</text>
<text class="lab" transform="translate(390.75,177.36) scale(0.935,1)" font-size="8.40">C18:1n9t</text>
<text class="lab" transform="translate(390.75,189.14) scale(0.935,1)" font-size="8.40">C18:2n6c</text>
<text class="lab" transform="translate(390.75,200.91) scale(0.935,1)" font-size="8.40">C18:2n6t</text>
<text class="lab" transform="translate(390.75,212.68) scale(0.935,1)" font-size="8.40">C18:3n3</text>
<text class="lab" transform="translate(390.75,224.45) scale(0.935,1)" font-size="8.40">C18:3n6</text>
<text class="lab" transform="translate(390.75,236.23) scale(0.935,1)" font-size="8.40">C20:0</text>
<text class="lab" transform="translate(390.75,248.00) scale(0.935,1)" font-size="8.40">C20:1</text>
<text class="lab" transform="translate(390.75,259.77) scale(0.935,1)" font-size="8.40">C20:2</text>
<text class="lab" transform="translate(390.75,271.55) scale(0.935,1)" font-size="8.40">C20:3n6</text>
<text class="lab" transform="translate(390.75,283.32) scale(0.935,1)" font-size="8.40">C20:4n6</text>
<text class="lab" transform="translate(390.75,295.09) scale(0.935,1)" font-size="8.40">C20:5n3</text>
<text class="lab" transform="translate(390.75,306.87) scale(0.935,1)" font-size="8.40">C21:0</text>
<text class="lab" transform="translate(390.75,318.64) scale(0.935,1)" font-size="8.40">C22:0</text>
<text class="lab" transform="translate(390.75,330.41) scale(0.935,1)" font-size="8.40">C22:6n3;DHA</text>
<text class="lab" transform="translate(390.75,342.18) scale(0.935,1)" font-size="8.40">C24:1</text>
<text class="lab" transform="translate(390.75,353.96) scale(0.935,1)" font-size="8.40">SFA</text>
<text class="lab" transform="translate(390.75,365.73) scale(0.935,1)" font-size="8.40">UFA</text>
<text class="lab" transform="translate(390.75,377.50) scale(0.935,1)" font-size="8.40">MUFA</text>
<text class="lab" transform="translate(390.75,389.28) scale(0.935,1)" font-size="8.40">PUFA</text>
<text class="lab" transform="translate(390.75,401.05) scale(0.935,1)" font-size="8.40">P:S</text>
<text class="lab" transform="translate(390.75,412.82) scale(0.935,1)" font-size="8.40">n-6PUFA</text>
<text class="lab" transform="translate(390.75,424.60) scale(0.935,1)" font-size="8.40">n-3PUFA</text>
<text class="lab" transform="translate(390.75,436.37) scale(0.935,1)" font-size="8.40">n-6:n-3</text>
<text class="lab" transform="translate(260.79,442.50) rotate(90) scale(0.935,1)" font-size="8.40">Bacteroides</text>
<text class="lab" transform="translate(272.58,442.50) rotate(90) scale(0.935,1)" font-size="8.40">unidentified_Lachnospiraceae</text>
<text class="lab" transform="translate(284.37,442.50) rotate(90) scale(0.935,1)" font-size="8.40">Lactobacillus</text>
<text class="lab" transform="translate(296.15,442.50) rotate(90) scale(0.935,1)" font-size="8.40">Megamonas</text>
<text class="lab" transform="translate(307.94,442.50) rotate(90) scale(0.935,1)" font-size="8.40">Lawsonia</text>
<text class="lab" transform="translate(319.72,442.50) rotate(90) scale(0.935,1)" font-size="8.40">Faecalibacterium</text>
<text class="lab" transform="translate(331.51,442.50) rotate(90) scale(0.935,1)" font-size="8.40">Romboutsia</text>
<text class="lab" transform="translate(343.30,442.50) rotate(90) scale(0.935,1)" font-size="8.40">Alistipes</text>
<text class="lab" transform="translate(355.08,442.50) rotate(90) scale(0.935,1)" font-size="8.40">Phascolarctobacterium</text>
<text class="lab" transform="translate(366.87,442.50) rotate(90) scale(0.935,1)" font-size="8.40">Desulfovibrio</text>
<text class="lab" transform="translate(378.65,442.50) rotate(90) scale(0.935,1)" font-size="8.40">Others</text>
<rect x="443.60" y="27.30" width="9.70" height="147.20" fill="url(#cb)"/>
<text class="lab" transform="translate(458.00,30.20) scale(0.935,1)" font-size="8.40">1</text>
<text class="lab" transform="translate(458.00,67.00) scale(0.935,1)" font-size="8.40">0.5</text>
<text class="lab" transform="translate(458.00,103.80) scale(0.935,1)" font-size="8.40">0</text>
<text class="lab" transform="translate(458.00,141.40) scale(0.935,1)" font-size="8.40">−0.5</text>
<text class="lab" transform="translate(458.00,178.20) scale(0.935,1)" font-size="8.40">−1</text>
<text x="242.80" y="16.5" font-family="Liberation Serif" font-weight="bold" font-size="17.8" style="font-family:'Liberation Serif',serif" fill="#000">B</text>
</svg></body></html>
